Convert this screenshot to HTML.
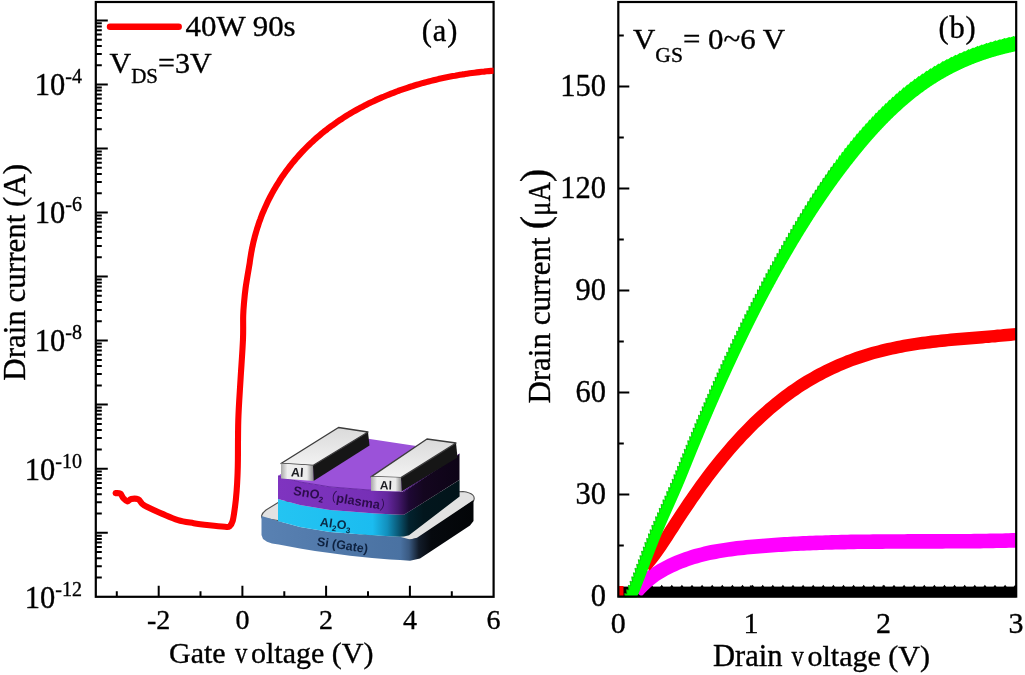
<!DOCTYPE html><html><head><meta charset="utf-8"><title>Figure</title><style>html,body{margin:0;padding:0;background:#fff;}svg{display:block;} text.s{stroke:#000;stroke-width:0.35px;}</style></head><body>
<svg width="1025" height="675" viewBox="0 0 1025 675">
<rect x="0" y="0" width="1025" height="675" fill="#fff"/>
<defs>
<clipPath id="cl"><rect x="95.8" y="2.0" width="397.8" height="594.8"/></clipPath>
<clipPath id="cr"><rect x="618.3" y="2.0" width="397.9" height="595.6"/></clipPath>
</defs>
<path d="M95.8 577.5H101.8 M95.8 566.2H101.8 M95.8 558.2H101.8 M95.8 552.0H101.8 M95.8 546.9H101.8 M95.8 542.6H101.8 M95.8 538.9H101.8 M95.8 535.7H101.8 M95.8 532.7H107.8 M95.8 513.4H101.8 M95.8 502.2H101.8 M95.8 494.2H101.8 M95.8 488.0H101.8 M95.8 482.9H101.8 M95.8 478.6H101.8 M95.8 474.9H101.8 M95.8 471.6H101.8 M95.8 468.7H107.8 M95.8 449.4H101.8 M95.8 438.1H101.8 M95.8 430.1H101.8 M95.8 423.9H101.8 M95.8 418.8H101.8 M95.8 414.6H101.8 M95.8 410.8H101.8 M95.8 407.6H101.8 M95.8 404.6H107.8 M95.8 385.4H101.8 M95.8 374.1H101.8 M95.8 366.1H101.8 M95.8 359.9H101.8 M95.8 354.8H101.8 M95.8 350.5H101.8 M95.8 346.8H101.8 M95.8 343.5H101.8 M95.8 340.6H107.8 M95.8 321.3H101.8 M95.8 310.0H101.8 M95.8 302.0H101.8 M95.8 295.8H101.8 M95.8 290.8H101.8 M95.8 286.5H101.8 M95.8 282.8H101.8 M95.8 279.5H101.8 M95.8 276.6H107.8 M95.8 257.3H101.8 M95.8 246.0H101.8 M95.8 238.0H101.8 M95.8 231.8H101.8 M95.8 226.7H101.8 M95.8 222.4H101.8 M95.8 218.7H101.8 M95.8 215.5H101.8 M95.8 212.5H107.8 M95.8 193.2H101.8 M95.8 182.0H101.8 M95.8 174.0H101.8 M95.8 167.8H101.8 M95.8 162.7H101.8 M95.8 158.4H101.8 M95.8 154.7H101.8 M95.8 151.4H101.8 M95.8 148.5H107.8 M95.8 129.2H101.8 M95.8 117.9H101.8 M95.8 109.9H101.8 M95.8 103.7H101.8 M95.8 98.6H101.8 M95.8 94.4H101.8 M95.8 90.6H101.8 M95.8 87.4H101.8 M95.8 84.4H107.8 M95.8 65.2H101.8 M95.8 53.9H101.8 M95.8 45.9H101.8 M95.8 39.7H101.8 M95.8 34.6H101.8 M95.8 30.3H101.8 M95.8 26.6H101.8 M95.8 23.3H101.8 M95.8 20.4H107.8 M116.8 596.8V591.3 M158.7 596.8V585.8 M200.5 596.8V591.3 M242.4 596.8V585.8 M284.3 596.8V591.3 M326.1 596.8V585.8 M368.0 596.8V591.3 M409.9 596.8V585.8 M451.8 596.8V591.3" stroke="#000" stroke-width="2" fill="none"/>
<rect x="95.8" y="2.0" width="397.8" height="594.8" fill="none" stroke="#000" stroke-width="2.2"/>
<text class="s" x="82" y="95.2" text-anchor="end" font-family='"Liberation Serif", "Times New Roman", serif' font-size="30.5">10<tspan dy="-12" font-size="20">-4</tspan></text>
<text class="s" x="82" y="223.3" text-anchor="end" font-family='"Liberation Serif", "Times New Roman", serif' font-size="30.5">10<tspan dy="-12" font-size="20">-6</tspan></text>
<text class="s" x="82" y="351.4" text-anchor="end" font-family='"Liberation Serif", "Times New Roman", serif' font-size="30.5">10<tspan dy="-12" font-size="20">-8</tspan></text>
<text class="s" x="82" y="479.5" text-anchor="end" font-family='"Liberation Serif", "Times New Roman", serif' font-size="30.5">10<tspan dy="-12" font-size="20">-10</tspan></text>
<text class="s" x="82" y="607.6" text-anchor="end" font-family='"Liberation Serif", "Times New Roman", serif' font-size="30.5">10<tspan dy="-12" font-size="20">-12</tspan></text>
<text class="s" x="158.7" y="629" text-anchor="middle" font-family='"Liberation Serif", "Times New Roman", serif' font-size="28">-2</text>
<text class="s" x="242.4" y="629" text-anchor="middle" font-family='"Liberation Serif", "Times New Roman", serif' font-size="28">0</text>
<text class="s" x="326.1" y="629" text-anchor="middle" font-family='"Liberation Serif", "Times New Roman", serif' font-size="28">2</text>
<text class="s" x="409.9" y="629" text-anchor="middle" font-family='"Liberation Serif", "Times New Roman", serif' font-size="28">4</text>
<text class="s" x="493.6" y="629" text-anchor="middle" font-family='"Liberation Serif", "Times New Roman", serif' font-size="28">6</text>
<text class="s" x="169" y="662.8" font-family='"Liberation Serif", "Times New Roman", serif' font-size="30">Gate <tspan dx="1.9" textLength="12.3" lengthAdjust="spacingAndGlyphs">v</tspan><tspan dx="3.7">oltage (V)</tspan></text>
<text class="s" transform="translate(24.9 272.3) rotate(-90)" text-anchor="middle" font-family='"Liberation Serif", "Times New Roman", serif' font-size="31">Drain current (A)</text>
<line x1="110" y1="26.8" x2="178.7" y2="26.8" stroke="#f00" stroke-width="6.4" stroke-linecap="round"/>
<text class="s" transform="translate(185.5 36.1) scale(1.03 1)" font-family='"Liberation Serif", "Times New Roman", serif' font-size="30">40W 90s</text>
<text class="s" x="109.5" y="73" font-family='"Liberation Serif", "Times New Roman", serif' font-size="30">V<tspan dy="9.6" font-size="21">DS</tspan><tspan dy="-9.6">=3V</tspan></text>
<text class="s" x="421.8" y="41" font-family='"Liberation Serif", "Times New Roman", serif' font-size="30.5" letter-spacing="0.9">(a)</text>
<g clip-path="url(#cl)"><path d="M115.6 493.1 C116.4 493.2 119.0 492.8 120.3 493.6 C121.6 494.5 122.2 496.9 123.4 498.2 C124.6 499.5 126.0 501.3 127.3 501.4 C128.6 501.5 129.4 499.4 131.2 499.0 C133.0 498.6 136.4 498.5 138.2 499.3 C140.0 500.1 140.7 502.4 142.1 503.7 C143.5 504.9 143.4 505.1 146.8 506.8 C150.2 508.5 157.2 511.7 162.4 513.9 C167.6 516.1 172.8 518.5 178.0 520.1 C183.2 521.7 188.5 522.3 193.7 523.2 C198.9 524.1 204.1 524.7 209.3 525.3 C214.5 525.9 221.5 526.6 224.9 526.8 C228.3 527.0 228.3 527.3 229.6 526.3 C230.9 525.3 231.8 524.1 232.7 520.9 C233.6 517.6 234.3 511.8 235.0 506.8 C235.7 501.9 236.2 496.4 236.6 491.2 C237.0 486.0 237.3 480.8 237.5 475.6 C237.7 470.4 237.8 469.3 237.9 460.0 C238.0 450.7 237.9 433.3 238.3 420.0 C238.7 406.7 239.7 393.5 240.5 380.0 C241.3 366.5 242.6 349.7 243.0 339.0 C243.4 328.3 243.0 321.6 243.2 315.6 C243.4 309.6 243.6 307.6 244.0 303.0 C244.4 298.4 244.7 294.7 245.6 288.0 C246.5 281.3 249.0 267.2 249.7 263.0 L250.0 260.5 L250.4 257.9 L250.8 255.4 L251.2 252.9 L251.7 250.4 L252.1 248.0 L252.7 245.5 L253.2 243.0 L253.8 240.6 L254.4 238.2 L255.0 235.8 L255.7 233.4 L256.4 231.0 L257.1 228.6 L257.9 226.3 L258.6 223.9 L259.4 221.6 L260.3 219.3 L261.1 217.0 L262.0 214.7 L262.9 212.4 L263.9 210.2 L264.9 207.9 L265.9 205.7 L266.9 203.5 L267.9 201.3 L269.0 199.1 L270.1 197.0 L271.3 194.8 L272.4 192.7 L273.6 190.6 L274.8 188.5 L276.0 186.4 L277.3 184.3 L278.6 182.3 L279.9 180.2 L281.2 178.2 L282.5 176.2 L283.9 174.2 L285.3 172.3 L286.7 170.3 L288.2 168.4 L289.6 166.5 L291.1 164.6 L292.6 162.7 L294.2 160.9 L295.7 159.0 L297.3 157.2 L298.9 155.4 L300.5 153.6 L302.1 151.9 L303.8 150.1 L305.5 148.4 L307.2 146.7 L308.9 145.0 L310.6 143.3 L312.4 141.7 L314.2 140.0 L316.0 138.4 L317.8 136.8 L319.6 135.3 L321.5 133.7 L323.4 132.2 L325.2 130.7 L327.2 129.2 L329.1 127.7 L331.0 126.3 L333.0 124.9 L335.0 123.5 L336.9 122.1 L338.9 120.7 L341.0 119.4 L343.0 118.0 L345.1 116.7 L347.1 115.4 L349.2 114.2 L351.3 112.9 L353.4 111.7 L355.5 110.5 L357.7 109.3 L359.8 108.1 L362.0 107.0 L364.1 105.8 L366.3 104.7 L368.5 103.6 L370.7 102.5 L373.0 101.5 L375.2 100.4 L377.4 99.4 L379.7 98.4 L381.9 97.4 L384.2 96.5 L386.5 95.5 L388.8 94.6 L391.1 93.7 L393.4 92.8 L395.7 91.9 L398.0 91.0 L400.3 90.2 L402.7 89.4 L405.0 88.6 L407.3 87.8 L409.7 87.0 L412.1 86.3 L414.4 85.5 L416.8 84.8 L419.2 84.1 L421.5 83.4 L423.9 82.8 L426.3 82.1 L428.7 81.5 L431.1 80.9 L433.5 80.3 L435.9 79.7 L438.3 79.1 L440.7 78.6 L443.1 78.1 L445.5 77.6 L447.9 77.1 L450.4 76.6 L452.8 76.1 L455.2 75.7 L457.6 75.2 L460.0 74.8 L462.4 74.4 L464.8 74.1 L467.2 73.7 L469.7 73.3 L472.1 73.0 L474.5 72.7 L476.9 72.4 L479.3 72.1 L481.7 71.8 L484.1 71.6 L486.5 71.3 L488.9 71.1 L491.2 70.9 L493.6 70.7 L496.0 70.5" stroke="#f00" stroke-width="6.1" fill="none" stroke-linejoin="round" stroke-linecap="round"/></g>
<path d="M618.3 545.4H623.8 M618.3 494.4H629.3 M618.3 443.4H623.8 M618.3 392.5H629.3 M618.3 341.5H623.8 M618.3 290.5H629.3 M618.3 239.5H623.8 M618.3 188.5H629.3 M618.3 137.5H623.8 M618.3 86.5H629.3 M618.3 35.6H623.8 M684.6 596.6V591.1 M750.9 596.6V585.6 M817.2 596.6V591.1 M883.5 596.6V585.6 M949.8 596.6V591.1" stroke="#000" stroke-width="2" fill="none"/>
<text class="s" x="606" y="605.5" text-anchor="end" font-family='"Liberation Serif", "Times New Roman", serif' font-size="30.5">0</text>
<text class="s" x="606" y="503.5" text-anchor="end" font-family='"Liberation Serif", "Times New Roman", serif' font-size="30.5">30</text>
<text class="s" x="606" y="401.6" text-anchor="end" font-family='"Liberation Serif", "Times New Roman", serif' font-size="30.5">60</text>
<text class="s" x="606" y="299.6" text-anchor="end" font-family='"Liberation Serif", "Times New Roman", serif' font-size="30.5">90</text>
<text class="s" x="606" y="197.6" text-anchor="end" font-family='"Liberation Serif", "Times New Roman", serif' font-size="30.5">120</text>
<text class="s" x="606" y="95.6" text-anchor="end" font-family='"Liberation Serif", "Times New Roman", serif' font-size="30.5">150</text>
<text class="s" x="618.3" y="632.5" text-anchor="middle" font-family='"Liberation Serif", "Times New Roman", serif' font-size="30">0</text>
<text class="s" x="750.9" y="632.5" text-anchor="middle" font-family='"Liberation Serif", "Times New Roman", serif' font-size="30">1</text>
<text class="s" x="883.5" y="632.5" text-anchor="middle" font-family='"Liberation Serif", "Times New Roman", serif' font-size="30">2</text>
<text class="s" x="1016.1" y="632.5" text-anchor="middle" font-family='"Liberation Serif", "Times New Roman", serif' font-size="30">3</text>
<text class="s" x="713" y="665.6" font-family='"Liberation Serif", "Times New Roman", serif' font-size="30.5">Drain <tspan font-size="30" dx="1.43" textLength="12.3" lengthAdjust="spacingAndGlyphs">v</tspan><tspan font-size="30" dx="3.7">oltage (V)</tspan></text>
<text class="s" transform="translate(549.6 403.6) rotate(-90)" font-family='"Liberation Serif", "Times New Roman", serif' font-size="31">Drain current <tspan font-size="40" dy="-1.6" dx="0.5">(</tspan><tspan font-size="31" dy="1.6" textLength="34" lengthAdjust="spacingAndGlyphs">μA</tspan><tspan font-size="40" dy="-1.6">)</tspan></text>
<text class="s" transform="translate(633 48.5) scale(1.03 1)" font-family='"Liberation Serif", "Times New Roman", serif' font-size="30">V<tspan dy="13.5" font-size="21">GS</tspan><tspan dy="-13.5" font-size="30">= 0~6 V</tspan></text>
<text class="s" x="938.5" y="38" font-family='"Liberation Serif", "Times New Roman", serif' font-size="30.5" letter-spacing="0.8">(b)</text>
<g clip-path="url(#cr)">
<rect x="618" y="586.6" width="398" height="11" fill="#000"/>
<path d="M640 597 Q640 588 648 586.6 L650 597 Z" fill="#000"/>
<path d="M650.0 587 l1.6 -2.2 l1.6 2.2 ZM660.1 587 l1.6 -2.2 l1.6 2.2 ZM670.2 587 l1.6 -2.2 l1.6 2.2 ZM680.3 587 l1.6 -2.2 l1.6 2.2 ZM690.4 587 l1.6 -2.2 l1.6 2.2 ZM700.5 587 l1.6 -2.2 l1.6 2.2 ZM710.6 587 l1.6 -2.2 l1.6 2.2 ZM720.7 587 l1.6 -2.2 l1.6 2.2 ZM730.8 587 l1.6 -2.2 l1.6 2.2 ZM740.9 587 l1.6 -2.2 l1.6 2.2 ZM751.0 587 l1.6 -2.2 l1.6 2.2 ZM761.1 587 l1.6 -2.2 l1.6 2.2 ZM771.2 587 l1.6 -2.2 l1.6 2.2 ZM781.3 587 l1.6 -2.2 l1.6 2.2 ZM791.4 587 l1.6 -2.2 l1.6 2.2 ZM801.5 587 l1.6 -2.2 l1.6 2.2 ZM811.6 587 l1.6 -2.2 l1.6 2.2 ZM821.7 587 l1.6 -2.2 l1.6 2.2 ZM831.8 587 l1.6 -2.2 l1.6 2.2 ZM841.9 587 l1.6 -2.2 l1.6 2.2 ZM852.0 587 l1.6 -2.2 l1.6 2.2 ZM862.1 587 l1.6 -2.2 l1.6 2.2 ZM872.2 587 l1.6 -2.2 l1.6 2.2 ZM882.3 587 l1.6 -2.2 l1.6 2.2 ZM892.4 587 l1.6 -2.2 l1.6 2.2 ZM902.5 587 l1.6 -2.2 l1.6 2.2 ZM912.6 587 l1.6 -2.2 l1.6 2.2 ZM922.7 587 l1.6 -2.2 l1.6 2.2 ZM932.8 587 l1.6 -2.2 l1.6 2.2 ZM942.9 587 l1.6 -2.2 l1.6 2.2 ZM953.0 587 l1.6 -2.2 l1.6 2.2 ZM963.1 587 l1.6 -2.2 l1.6 2.2 ZM973.2 587 l1.6 -2.2 l1.6 2.2 ZM983.3 587 l1.6 -2.2 l1.6 2.2 ZM993.4 587 l1.6 -2.2 l1.6 2.2 ZM1003.5 587 l1.6 -2.2 l1.6 2.2 ZM1013.6 587 l1.6 -2.2 l1.6 2.2 Z" fill="#000"/>
<rect x="617.5" y="586" width="6" height="11" fill="#f00"/>
<path d="M641.5 596.8 L644.5 593.3 L647.5 590.3 L650.4 587.6 L653.3 585.0 L656.2 582.7 L659.1 580.6 L662.0 578.7 L665.0 576.9 L667.9 575.3 L670.9 573.7 L673.9 572.3 L676.9 570.9 L679.9 569.6 L682.9 568.3 L686.0 567.2 L689.0 566.1 L692.0 565.0 L695.0 564.1 L698.1 563.2 L701.1 562.3 L704.1 561.5 L707.2 560.8 L710.2 560.1 L713.3 559.5 L716.4 558.9 L719.4 558.3 L722.5 557.8 L725.6 557.3 L728.7 556.8 L731.7 556.4 L734.8 556.0 L738.0 555.6 L741.1 555.3 L744.2 555.0 L747.3 554.6 L750.4 554.3 L753.6 554.1 L756.7 553.8 L759.8 553.5 L763.0 553.2 L766.1 553.0 L769.3 552.8 L772.4 552.5 L775.5 552.3 L778.7 552.1 L781.8 551.9 L784.9 551.7 L788.1 551.5 L791.2 551.3 L794.4 551.1 L797.5 551.0 L800.7 550.8 L803.8 550.7 L806.9 550.5 L810.1 550.4 L813.2 550.3 L816.4 550.2 L819.5 550.1 L822.7 549.9 L825.8 549.8 L829.0 549.7 L832.1 549.7 L835.2 549.6 L838.4 549.5 L841.5 549.4 L844.7 549.4 L847.8 549.3 L851.0 549.2 L854.1 549.2 L857.3 549.1 L860.4 549.1 L863.6 549.0 L866.7 549.0 L869.9 549.0 L873.0 548.9 L876.2 548.9 L879.4 548.9 L882.5 548.9 L885.7 548.8 L888.8 548.8 L892.0 548.8 L895.1 548.8 L898.3 548.8 L901.4 548.8 L904.6 548.8 L907.8 548.7 L910.9 548.7 L914.1 548.7 L917.2 548.7 L920.4 548.7 L923.5 548.7 L926.7 548.7 L929.9 548.7 L933.0 548.7 L936.2 548.7 L939.4 548.7 L942.5 548.7 L945.7 548.6 L948.8 548.6 L952.0 548.6 L955.2 548.6 L958.3 548.6 L961.5 548.6 L964.7 548.5 L967.8 548.5 L971.0 548.5 L974.2 548.4 L977.3 548.4 L980.5 548.4 L983.7 548.3 L986.8 548.3 L990.0 548.2 L993.2 548.2 L996.3 548.1 L999.5 548.0 L1002.7 548.0 L1005.9 547.9 L1009.0 547.8 L1012.0 547.7 L1022.0 547.7 L1022.0 533.1 L1012.0 533.1 L1008.7 533.2 L1005.5 533.3 L1002.4 533.4 L999.2 533.4 L996.1 533.5 L992.9 533.6 L989.8 533.6 L986.6 533.7 L983.5 533.7 L980.3 533.8 L977.2 533.8 L974.0 533.8 L970.9 533.9 L967.7 533.9 L964.5 533.9 L961.4 534.0 L958.2 534.0 L955.1 534.0 L951.9 534.0 L948.8 534.0 L945.6 534.0 L942.5 534.1 L939.3 534.1 L936.1 534.1 L933.0 534.1 L929.8 534.1 L926.7 534.1 L923.5 534.1 L920.4 534.1 L917.2 534.1 L914.0 534.1 L910.9 534.1 L907.7 534.1 L904.5 534.2 L901.4 534.2 L898.2 534.2 L895.1 534.2 L891.9 534.2 L888.7 534.2 L885.6 534.2 L882.4 534.3 L879.2 534.3 L876.1 534.3 L872.9 534.3 L869.7 534.4 L866.6 534.4 L863.4 534.4 L860.2 534.5 L857.1 534.5 L853.9 534.6 L850.7 534.6 L847.6 534.7 L844.4 534.8 L841.2 534.8 L838.0 534.9 L834.9 535.0 L831.7 535.1 L828.5 535.2 L825.4 535.2 L822.2 535.4 L819.0 535.5 L815.8 535.6 L812.7 535.7 L809.5 535.8 L806.3 536.0 L803.1 536.1 L800.0 536.2 L796.8 536.4 L793.6 536.6 L790.4 536.7 L787.2 536.9 L784.1 537.1 L780.9 537.3 L777.7 537.5 L774.5 537.7 L771.3 538.0 L768.2 538.2 L765.0 538.4 L761.8 538.7 L758.6 539.0 L755.4 539.2 L752.2 539.5 L749.1 539.8 L745.9 540.1 L742.7 540.4 L739.5 540.8 L736.3 541.1 L733.1 541.5 L729.8 541.9 L726.6 542.4 L723.4 542.9 L720.1 543.4 L716.9 543.9 L713.6 544.5 L710.4 545.1 L707.1 545.8 L703.8 546.6 L700.6 547.4 L697.3 548.2 L694.0 549.1 L690.7 550.1 L687.4 551.2 L684.1 552.3 L680.8 553.5 L677.5 554.8 L674.2 556.1 L670.9 557.6 L667.6 559.1 L664.3 560.7 L661.0 562.4 L657.6 564.3 L654.2 566.4 L650.8 568.6 L647.4 571.1 L644.0 573.8 L640.6 576.7 L637.2 579.9 L633.8 583.4 L630.5 587.1 Z" fill="#f0f"/>
<path d="M649.6 570.4 L652.8 566.9 L656.1 562.9 L659.4 558.7 L662.6 554.3 L665.8 549.7 L668.9 545.0 L672.1 540.2 L675.2 535.3 L678.4 530.5 L681.5 525.6 L684.6 520.8 L687.7 516.1 L690.8 511.5 L693.9 506.9 L697.0 502.3 L700.1 497.9 L703.2 493.5 L706.3 489.1 L709.4 484.9 L712.4 480.7 L715.5 476.7 L718.6 472.7 L721.7 468.7 L724.8 464.9 L727.9 461.1 L730.9 457.4 L734.0 453.8 L737.1 450.3 L740.2 446.8 L743.3 443.4 L746.3 440.1 L749.4 436.9 L752.5 433.7 L755.6 430.6 L758.6 427.6 L761.7 424.7 L764.8 421.8 L767.8 419.0 L770.9 416.2 L773.9 413.6 L777.0 411.0 L780.1 408.5 L783.1 406.0 L786.2 403.6 L789.2 401.3 L792.3 399.0 L795.3 396.8 L798.4 394.7 L801.4 392.6 L804.5 390.6 L807.5 388.7 L810.6 386.8 L813.6 385.0 L816.7 383.2 L819.7 381.5 L822.8 379.9 L825.8 378.3 L828.9 376.7 L831.9 375.2 L835.0 373.8 L838.0 372.4 L841.0 371.0 L844.1 369.7 L847.1 368.5 L850.2 367.3 L853.2 366.1 L856.3 365.0 L859.3 363.9 L862.4 362.9 L865.4 361.9 L868.5 360.9 L871.5 360.0 L874.6 359.1 L877.7 358.3 L880.7 357.5 L883.8 356.7 L886.8 356.0 L889.9 355.3 L893.0 354.6 L896.0 353.9 L899.1 353.3 L902.2 352.7 L905.2 352.1 L908.3 351.6 L911.4 351.1 L914.5 350.6 L917.5 350.1 L920.6 349.6 L923.7 349.2 L926.8 348.8 L929.9 348.4 L933.0 348.0 L936.0 347.7 L939.1 347.3 L942.2 347.0 L945.3 346.7 L948.4 346.3 L951.5 346.0 L954.6 345.8 L957.7 345.5 L960.8 345.2 L964.0 344.9 L967.1 344.7 L970.2 344.4 L973.3 344.2 L976.4 343.9 L979.5 343.7 L982.7 343.4 L985.8 343.1 L988.9 342.9 L992.0 342.6 L995.2 342.4 L998.3 342.1 L1001.4 341.8 L1004.6 341.5 L1007.7 341.2 L1010.9 340.9 L1014.0 340.6 L1017.0 340.3 L1022.3 340.0 L1021.7 327.6 L1016.0 327.9 L1012.7 328.2 L1009.6 328.5 L1006.5 328.8 L1003.4 329.1 L1000.3 329.4 L997.2 329.6 L994.1 329.9 L991.0 330.2 L987.9 330.4 L984.8 330.7 L981.7 330.9 L978.5 331.2 L975.4 331.4 L972.3 331.7 L969.2 332.0 L966.0 332.2 L962.9 332.5 L959.8 332.7 L956.6 333.0 L953.5 333.3 L950.4 333.6 L947.2 333.9 L944.1 334.2 L940.9 334.5 L937.8 334.9 L934.6 335.2 L931.5 335.6 L928.3 336.0 L925.2 336.4 L922.0 336.8 L918.8 337.3 L915.7 337.7 L912.5 338.2 L909.3 338.7 L906.2 339.3 L903.0 339.8 L899.8 340.4 L896.7 341.0 L893.5 341.7 L890.3 342.4 L887.1 343.1 L883.9 343.8 L880.8 344.6 L877.6 345.4 L874.4 346.2 L871.2 347.1 L868.0 348.0 L864.8 349.0 L861.6 350.0 L858.4 351.0 L855.2 352.1 L852.0 353.2 L848.9 354.4 L845.7 355.6 L842.5 356.9 L839.3 358.2 L836.1 359.6 L832.9 361.0 L829.7 362.4 L826.5 364.0 L823.3 365.5 L820.1 367.2 L816.9 368.8 L813.7 370.6 L810.5 372.4 L807.3 374.2 L804.1 376.1 L800.9 378.1 L797.7 380.1 L794.5 382.2 L791.3 384.4 L788.1 386.6 L784.9 388.9 L781.7 391.3 L778.5 393.7 L775.4 396.2 L772.2 398.8 L769.0 401.4 L765.8 404.1 L762.6 406.9 L759.4 409.7 L756.3 412.6 L753.1 415.6 L749.9 418.6 L746.7 421.8 L743.6 425.0 L740.4 428.2 L737.2 431.6 L734.1 435.0 L730.9 438.5 L727.7 442.0 L724.6 445.7 L721.4 449.4 L718.2 453.2 L715.1 457.0 L711.9 461.0 L708.7 465.0 L705.6 469.1 L702.4 473.2 L699.3 477.5 L696.1 481.8 L693.0 486.2 L689.8 490.7 L686.7 495.2 L683.5 499.8 L680.4 504.5 L677.2 509.2 L674.1 514.0 L671.0 518.8 L667.8 523.7 L664.7 528.6 L661.6 533.4 L658.5 538.1 L655.4 542.7 L652.4 547.1 L649.4 551.2 L646.4 555.1 L643.4 558.6 L640.4 561.9 Z" fill="#f00"/>
<path d="M634.5 602.7 L634.6 602.3 L634.8 602.0 L635.0 601.6 L635.1 601.2 L635.3 600.9 L635.5 600.5 L635.6 600.1 L635.8 599.8 L636.0 599.4 L636.1 599.1 L636.3 598.7 L636.5 598.3 L636.6 598.0 L636.8 597.6 L637.0 597.1 L637.2 596.7 L637.3 596.3 L637.5 596.0 L637.6 595.6 L637.8 595.2 L638.0 594.9 L638.1 594.5 L638.3 594.1 L638.4 593.8 L638.6 593.4 L638.7 593.0 L638.9 592.7 L639.1 592.3 L639.2 591.9 L639.4 591.5 L639.6 591.1 L639.7 590.7 L639.9 590.3 L640.0 590.0 L640.2 589.6 L640.3 589.2 L640.5 588.9 L640.6 588.5 L640.8 588.1 L640.9 587.7 L641.1 587.4 L641.2 587.0 L641.4 586.6 L641.5 586.3 L641.7 585.9 L641.8 585.5 L642.0 585.1 L642.1 584.7 L642.3 584.3 L642.4 583.9 L642.6 583.6 L642.7 583.2 L642.9 582.8 L643.0 582.5 L643.1 582.1 L643.3 581.7 L643.4 581.3 L643.6 581.0 L643.7 580.6 L643.9 580.2 L644.0 579.8 L644.2 579.5 L644.3 579.1 L644.5 578.7 L644.6 578.3 L644.8 577.9 L644.9 577.6 L645.0 577.2 L645.2 576.8 L645.3 576.4 L645.5 576.1 L645.6 575.7 L645.7 575.3 L645.9 574.9 L646.0 574.6 L646.2 574.2 L646.3 573.8 L646.5 573.4 L646.6 573.1 L646.7 572.7 L646.9 572.3 L647.0 571.9 L647.2 571.6 L647.3 571.2 L647.5 570.8 L647.6 570.4 L647.7 570.1 L647.9 569.7 L648.0 569.3 L648.2 568.9 L648.3 568.6 L648.4 568.2 L648.6 567.8 L648.7 567.4 L648.9 567.1 L649.0 566.7 L649.2 566.3 L649.3 566.0 L649.4 565.6 L649.6 565.2 L649.7 564.8 L649.9 564.5 L650.0 564.1 L650.1 563.7 L650.3 563.3 L650.4 563.0 L650.6 562.6 L650.7 562.2 L650.9 561.8 L651.0 561.5 L651.1 561.1 L651.3 560.7 L651.4 560.3 L651.6 560.0 L651.7 559.6 L651.8 559.2 L652.0 558.9 L652.1 558.5 L652.3 558.1 L652.4 557.8 L652.6 557.4 L652.7 557.0 L652.8 556.6 L653.0 556.3 L653.1 555.9 L653.3 555.5 L653.4 555.1 L653.6 554.8 L653.7 554.4 L653.8 554.0 L654.0 553.7 L654.1 553.3 L654.3 552.9 L654.4 552.6 L654.6 552.2 L654.7 551.8 L654.8 551.4 L655.0 551.1 L655.1 550.7 L655.3 550.3 L655.4 549.9 L655.6 549.6 L655.7 549.2 L655.9 548.8 L656.0 548.5 L656.1 548.1 L656.3 547.7 L656.4 547.4 L656.6 547.0 L656.7 546.6 L656.9 546.3 L657.0 545.9 L657.2 545.5 L657.3 545.1 L657.5 544.8 L657.6 544.4 L657.7 544.0 L657.9 543.7 L658.0 543.3 L658.2 542.9 L658.3 542.5 L658.5 542.2 L658.6 541.8 L658.8 541.4 L658.9 541.1 L659.1 540.7 L659.2 540.4 L659.4 540.0 L659.5 539.6 L659.7 539.2 L659.8 538.9 L660.0 538.5 L660.1 538.1 L660.3 537.8 L660.4 537.4 L660.6 537.0 L660.7 536.7 L660.9 536.3 L661.0 535.9 L661.2 535.5 L661.3 535.2 L661.4 534.9 L661.6 534.5 L661.8 534.1 L661.9 533.8 L662.1 533.4 L662.2 533.0 L662.4 532.6 L662.5 532.3 L662.7 531.9 L662.8 531.5 L663.0 531.2 L663.1 530.8 L663.3 530.4 L663.4 530.1 L663.6 529.7 L663.7 529.4 L663.9 529.0 L664.0 528.6 L664.2 528.3 L664.4 527.9 L664.5 527.5 L664.7 527.2 L664.8 526.8 L665.0 526.4 L665.1 526.1 L665.3 525.7 L665.5 525.3 L665.6 525.0 L665.8 524.6 L665.9 524.2 L666.1 523.9 L666.2 523.5 L666.4 523.2 L666.6 522.8 L666.7 522.4 L666.9 522.1 L667.0 521.7 L667.2 521.3 L667.4 521.0 L667.5 520.6 L667.7 520.2 L667.8 519.9 L668.0 519.5 L668.2 519.1 L668.3 518.8 L668.5 518.4 L668.6 518.1 L668.8 517.7 L668.9 517.3 L669.1 517.0 L669.3 516.6 L669.4 516.2 L669.6 515.9 L669.8 515.5 L669.9 515.1 L670.1 514.8 L670.2 514.4 L670.4 514.0 L670.6 513.7 L670.7 513.3 L670.9 513.0 L671.0 512.6 L671.2 512.2 L671.4 511.9 L671.5 511.5 L671.7 511.1 L671.9 510.8 L672.0 510.4 L672.2 510.0 L672.3 509.7 L672.5 509.3 L672.7 508.9 L672.8 508.6 L673.0 508.2 L673.2 507.9 L673.3 507.5 L673.5 507.1 L673.6 506.8 L673.8 506.4 L674.0 506.0 L674.1 505.7 L674.3 505.3 L674.5 504.9 L674.6 504.6 L674.8 504.2 L674.9 503.8 L675.1 503.5 L675.3 503.1 L675.4 502.7 L675.6 502.4 L675.8 502.0 L675.9 501.6 L676.1 501.3 L676.3 500.9 L676.4 500.5 L676.6 500.2 L676.7 499.8 L676.9 499.4 L677.1 499.1 L677.2 498.7 L677.4 498.3 L677.6 498.0 L677.7 497.6 L677.9 497.2 L678.0 496.9 L678.2 496.5 L678.4 496.1 L678.5 495.7 L678.7 495.4 L678.9 495.0 L679.0 494.6 L679.2 494.3 L679.3 493.9 L679.5 493.5 L679.7 493.2 L679.8 492.8 L680.0 492.4 L680.1 492.1 L680.3 491.7 L680.5 491.3 L680.6 491.0 L680.8 490.6 L681.0 490.2 L681.1 489.8 L681.3 489.5 L681.4 489.1 L681.6 488.7 L681.7 488.4 L681.9 488.0 L682.1 487.6 L682.2 487.3 L682.4 486.9 L682.5 486.5 L682.7 486.2 L682.8 485.8 L683.0 485.4 L683.2 485.0 L683.3 484.6 L683.5 484.3 L683.6 483.9 L683.8 483.5 L684.0 483.2 L684.1 482.8 L684.3 482.4 L684.4 482.1 L684.6 481.7 L684.7 481.3 L684.9 480.9 L685.0 480.6 L685.2 480.2 L685.3 479.8 L685.5 479.4 L685.7 479.1 L685.8 478.7 L686.0 478.3 L686.1 477.9 L686.3 477.6 L686.4 477.2 L686.6 476.8 L686.7 476.5 L686.9 476.1 L687.0 475.7 L687.2 475.3 L687.3 475.0 L687.5 474.6 L687.6 474.2 L687.8 473.9 L687.9 473.5 L688.1 473.1 L688.3 472.7 L688.4 472.4 L688.5 472.0 L688.7 471.6 L688.8 471.2 L689.0 470.9 L689.1 470.5 L689.3 470.1 L689.4 469.8 L689.6 469.4 L689.7 469.0 L689.9 468.6 L690.0 468.3 L690.2 467.9 L690.3 467.5 L690.5 467.2 L690.6 466.8 L690.8 466.4 L690.9 466.0 L691.1 465.7 L691.2 465.3 L691.4 464.9 L691.5 464.6 L691.7 464.2 L691.8 463.8 L692.0 463.4 L692.1 463.1 L692.3 462.7 L692.4 462.3 L692.6 462.0 L692.7 461.6 L692.9 461.2 L693.0 460.9 L693.2 460.5 L693.3 460.1 L693.5 459.7 L693.6 459.4 L693.8 459.0 L693.9 458.6 L694.1 458.3 L694.2 457.9 L694.4 457.5 L694.5 457.1 L694.7 456.8 L694.8 456.4 L695.0 456.0 L695.1 455.7 L695.3 455.3 L695.4 454.9 L695.6 454.6 L695.7 454.2 L695.9 453.8 L696.0 453.5 L696.2 453.1 L696.3 452.7 L696.5 452.3 L696.6 452.0 L696.8 451.6 L696.9 451.2 L697.1 450.9 L697.2 450.5 L697.4 450.1 L697.5 449.8 L697.7 449.4 L697.8 449.0 L698.0 448.7 L698.1 448.3 L698.3 447.9 L698.4 447.6 L698.6 447.2 L698.7 446.8 L698.9 446.4 L699.1 446.1 L699.2 445.7 L699.4 445.3 L699.5 445.0 L699.7 444.6 L699.8 444.2 L700.0 443.9 L700.1 443.5 L700.3 443.1 L700.4 442.8 L700.6 442.4 L700.7 442.0 L700.9 441.7 L701.0 441.3 L701.2 440.9 L701.3 440.5 L701.5 440.2 L701.6 439.8 L701.8 439.4 L701.9 439.1 L702.1 438.7 L702.3 438.3 L702.4 438.0 L702.6 437.6 L702.7 437.2 L702.9 436.9 L703.0 436.5 L703.2 436.1 L703.3 435.8 L703.5 435.4 L703.6 435.0 L703.8 434.7 L703.9 434.3 L704.1 433.9 L704.2 433.5 L704.4 433.2 L704.6 432.8 L704.7 432.4 L704.9 432.1 L705.0 431.7 L705.2 431.3 L705.3 431.0 L705.5 430.6 L705.6 430.2 L705.8 429.9 L705.9 429.5 L706.1 429.1 L706.3 428.8 L706.4 428.4 L706.6 428.0 L706.7 427.7 L706.9 427.3 L707.0 426.9 L707.2 426.6 L707.3 426.2 L707.5 425.8 L707.6 425.5 L707.8 425.1 L708.0 424.7 L708.1 424.4 L708.3 424.0 L708.4 423.6 L708.6 423.3 L708.7 422.9 L708.9 422.5 L709.0 422.2 L709.2 421.8 L709.4 421.4 L709.5 421.0 L709.7 420.7 L709.8 420.3 L710.0 420.0 L710.1 419.6 L710.3 419.2 L710.5 418.9 L710.6 418.5 L710.8 418.1 L710.9 417.8 L711.1 417.4 L711.2 417.0 L711.4 416.7 L711.6 416.3 L711.7 415.9 L711.9 415.5 L712.0 415.2 L712.2 414.8 L712.3 414.5 L712.5 414.1 L712.7 413.7 L712.8 413.4 L713.0 413.0 L713.1 412.6 L713.3 412.3 L713.4 411.9 L713.6 411.5 L713.8 411.2 L713.9 410.8 L714.1 410.4 L714.2 410.1 L714.4 409.7 L714.5 409.3 L714.7 409.0 L714.9 408.6 L715.0 408.2 L715.2 407.9 L715.3 407.5 L715.5 407.1 L715.7 406.8 L715.8 406.4 L716.0 406.0 L716.1 405.7 L716.3 405.3 L716.5 404.9 L716.6 404.6 L716.8 404.2 L716.9 403.8 L717.1 403.5 L717.2 403.1 L717.4 402.8 L717.6 402.4 L717.7 402.0 L717.9 401.7 L718.1 401.3 L718.2 400.9 L718.4 400.6 L718.5 400.2 L718.7 399.8 L718.9 399.5 L719.0 399.1 L719.2 398.7 L719.3 398.4 L719.5 398.0 L719.6 397.6 L719.8 397.3 L720.0 396.9 L720.1 396.5 L720.3 396.2 L720.5 395.8 L720.6 395.4 L720.8 395.1 L720.9 394.7 L721.1 394.3 L721.3 394.0 L721.4 393.6 L721.6 393.3 L721.7 392.9 L721.9 392.5 L722.1 392.2 L722.2 391.8 L722.4 391.4 L722.6 391.1 L722.7 390.7 L722.9 390.3 L723.0 390.0 L723.2 389.6 L723.4 389.2 L723.5 388.9 L723.7 388.5 L723.9 388.2 L724.0 387.8 L724.2 387.4 L724.3 387.1 L724.5 386.7 L724.7 386.3 L724.8 386.0 L725.0 385.6 L725.2 385.3 L725.3 384.9 L725.5 384.5 L725.6 384.2 L725.8 383.8 L726.0 383.4 L726.1 383.1 L726.3 382.7 L726.5 382.3 L726.6 382.0 L726.8 381.6 L727.0 381.3 L727.1 380.9 L727.3 380.5 L727.4 380.2 L727.6 379.8 L727.8 379.4 L727.9 379.1 L728.1 378.7 L728.3 378.3 L728.4 378.0 L728.6 377.6 L728.8 377.2 L728.9 376.9 L729.1 376.5 L729.3 376.2 L729.4 375.8 L729.6 375.4 L729.8 375.1 L729.9 374.7 L730.1 374.4 L730.3 374.0 L730.4 373.6 L730.6 373.3 L730.8 372.9 L730.9 372.5 L731.1 372.2 L731.3 371.8 L731.4 371.4 L731.6 371.1 L731.7 370.7 L731.9 370.4 L732.1 370.0 L732.2 369.6 L732.4 369.3 L732.6 368.9 L732.7 368.6 L732.9 368.2 L733.1 367.8 L733.2 367.5 L733.4 367.1 L733.6 366.7 L733.7 366.4 L733.9 366.0 L734.1 365.7 L734.2 365.3 L734.4 364.9 L734.6 364.6 L734.7 364.2 L734.9 363.9 L735.1 363.5 L735.3 363.1 L735.4 362.8 L735.6 362.4 L735.8 362.0 L735.9 361.7 L736.1 361.3 L736.3 361.0 L736.4 360.6 L736.6 360.2 L736.8 359.9 L736.9 359.5 L737.1 359.2 L737.3 358.8 L737.4 358.4 L737.6 358.1 L737.8 357.7 L738.0 357.4 L738.1 357.0 L738.3 356.6 L738.5 356.3 L738.6 355.9 L738.8 355.5 L739.0 355.2 L739.1 354.8 L739.3 354.5 L739.5 354.1 L739.6 353.8 L739.8 353.4 L740.0 353.0 L740.2 352.7 L740.3 352.3 L740.5 351.9 L740.7 351.6 L740.8 351.2 L741.0 350.9 L741.2 350.5 L741.3 350.2 L741.5 349.8 L741.7 349.4 L741.9 349.1 L742.0 348.7 L742.2 348.3 L742.4 348.0 L742.6 347.6 L742.7 347.3 L742.9 346.9 L743.1 346.5 L743.2 346.2 L743.4 345.8 L743.6 345.5 L743.7 345.1 L743.9 344.8 L744.1 344.4 L744.3 344.0 L744.4 343.7 L744.6 343.3 L744.8 343.0 L745.0 342.6 L745.1 342.2 L745.3 341.9 L745.5 341.5 L745.7 341.2 L745.8 340.8 L746.0 340.4 L746.2 340.1 L746.3 339.7 L746.5 339.4 L746.7 339.0 L746.9 338.7 L747.0 338.3 L747.2 337.9 L747.4 337.6 L747.6 337.2 L747.7 336.9 L747.9 336.5 L748.1 336.1 L748.3 335.8 L748.4 335.4 L748.6 335.1 L748.8 334.7 L748.9 334.4 L749.1 334.0 L749.3 333.6 L749.5 333.3 L749.7 332.9 L749.8 332.6 L750.0 332.2 L750.2 331.8 L750.4 331.5 L750.5 331.1 L750.7 330.8 L750.9 330.4 L751.1 330.1 L751.2 329.7 L751.4 329.3 L751.6 329.0 L751.8 328.6 L751.9 328.3 L752.1 327.9 L752.3 327.6 L752.5 327.2 L752.6 326.8 L752.8 326.5 L753.0 326.1 L753.2 325.8 L753.3 325.4 L753.5 325.1 L753.7 324.7 L753.9 324.3 L754.1 324.0 L754.2 323.6 L754.4 323.3 L754.6 322.9 L754.8 322.6 L754.9 322.2 L755.1 321.8 L755.3 321.5 L755.5 321.1 L755.7 320.8 L755.8 320.4 L756.0 320.1 L756.2 319.7 L756.4 319.4 L756.5 319.0 L756.7 318.6 L756.9 318.3 L757.1 317.9 L757.3 317.6 L757.4 317.2 L757.6 316.9 L757.8 316.5 L758.0 316.1 L758.2 315.8 L758.3 315.4 L758.5 315.1 L758.7 314.7 L758.9 314.4 L759.1 314.0 L759.2 313.7 L759.4 313.3 L759.6 312.9 L759.8 312.6 L760.0 312.2 L760.1 311.9 L760.3 311.5 L760.5 311.2 L760.7 310.8 L760.9 310.5 L761.0 310.1 L761.2 309.8 L761.4 309.4 L761.6 309.0 L761.8 308.7 L761.9 308.3 L762.1 308.0 L762.3 307.6 L762.5 307.3 L762.7 306.9 L762.9 306.6 L763.0 306.2 L763.2 305.9 L763.4 305.5 L763.6 305.2 L763.8 304.8 L763.9 304.4 L764.1 304.1 L764.3 303.7 L764.5 303.4 L764.7 303.0 L764.9 302.7 L765.0 302.3 L765.2 302.0 L765.4 301.6 L765.6 301.3 L765.8 300.9 L766.0 300.6 L766.1 300.2 L766.3 299.9 L766.5 299.5 L766.7 299.1 L766.9 298.8 L767.1 298.4 L767.3 298.1 L767.5 297.7 L767.6 297.4 L767.8 297.0 L768.0 296.7 L768.2 296.3 L768.4 296.0 L768.6 295.6 L768.8 295.3 L768.9 294.9 L769.1 294.6 L769.3 294.2 L769.5 293.9 L769.7 293.5 L769.9 293.2 L770.1 292.8 L770.3 292.5 L770.4 292.1 L770.6 291.8 L770.8 291.4 L771.0 291.1 L771.2 290.7 L771.4 290.4 L771.6 290.0 L771.8 289.7 L772.0 289.3 L772.1 289.0 L772.3 288.6 L772.5 288.2 L772.7 287.9 L772.9 287.6 L773.1 287.2 L773.3 286.9 L773.5 286.5 L773.7 286.2 L773.8 285.8 L774.0 285.5 L774.2 285.1 L774.4 284.8 L774.6 284.4 L774.8 284.1 L775.0 283.7 L775.2 283.4 L775.4 283.0 L775.6 282.7 L775.7 282.3 L775.9 282.0 L776.1 281.6 L776.3 281.3 L776.5 280.9 L776.7 280.6 L776.9 280.2 L777.1 279.9 L777.3 279.5 L777.5 279.2 L777.7 278.8 L777.8 278.5 L778.0 278.1 L778.2 277.8 L778.4 277.4 L778.6 277.1 L778.8 276.7 L779.0 276.4 L779.2 276.0 L779.4 275.7 L779.6 275.3 L779.8 275.0 L780.0 274.6 L780.2 274.3 L780.4 274.0 L780.6 273.6 L780.7 273.3 L780.9 272.9 L781.1 272.6 L781.3 272.2 L781.5 271.9 L781.7 271.5 L781.9 271.2 L782.1 270.8 L782.3 270.5 L782.5 270.1 L782.7 269.8 L782.9 269.4 L783.1 269.1 L783.3 268.8 L783.5 268.4 L783.7 268.1 L783.9 267.7 L784.1 267.4 L784.3 267.0 L784.5 266.7 L784.7 266.3 L784.8 266.0 L785.0 265.6 L785.2 265.3 L785.4 264.9 L785.6 264.6 L785.8 264.2 L786.0 263.9 L786.2 263.6 L786.4 263.2 L786.6 262.9 L786.8 262.5 L787.0 262.2 L787.2 261.8 L787.4 261.5 L787.6 261.1 L787.8 260.8 L788.0 260.5 L788.2 260.1 L788.4 259.8 L788.6 259.4 L788.8 259.1 L789.0 258.7 L789.2 258.4 L789.4 258.0 L789.6 257.7 L789.8 257.3 L790.0 257.0 L790.2 256.7 L790.4 256.3 L790.6 256.0 L790.8 255.6 L791.0 255.3 L791.2 254.9 L791.4 254.6 L791.6 254.2 L791.8 253.9 L792.0 253.6 L792.2 253.2 L792.4 252.9 L792.6 252.5 L792.8 252.2 L793.0 251.9 L793.2 251.5 L793.4 251.2 L793.6 250.8 L793.8 250.5 L794.0 250.1 L794.2 249.8 L794.4 249.4 L794.6 249.1 L794.8 248.8 L795.0 248.4 L795.2 248.1 L795.4 247.7 L795.6 247.4 L795.8 247.1 L796.0 246.7 L796.2 246.4 L796.4 246.0 L796.6 245.7 L796.8 245.3 L797.0 245.0 L797.2 244.7 L797.4 244.3 L797.6 244.0 L797.8 243.6 L798.0 243.3 L798.2 243.0 L798.5 242.6 L798.7 242.3 L798.9 241.9 L799.1 241.6 L799.3 241.2 L799.5 240.9 L799.7 240.6 L799.9 240.2 L800.1 239.9 L800.3 239.6 L800.5 239.2 L800.7 238.9 L800.9 238.5 L801.1 238.2 L801.3 237.8 L801.5 237.5 L801.7 237.2 L801.9 236.8 L802.1 236.5 L802.3 236.2 L802.6 235.8 L802.8 235.5 L803.0 235.1 L803.2 234.8 L803.4 234.5 L803.6 234.1 L803.8 233.8 L804.0 233.4 L804.2 233.1 L804.4 232.8 L804.6 232.4 L804.8 232.1 L805.1 231.8 L805.3 231.4 L805.5 231.1 L805.7 230.7 L805.9 230.4 L806.1 230.1 L806.3 229.7 L806.5 229.4 L806.7 229.0 L806.9 228.7 L807.1 228.4 L807.4 228.1 L807.6 227.7 L807.8 227.4 L808.0 227.0 L808.2 226.7 L808.4 226.4 L808.6 226.0 L808.8 225.7 L809.1 225.3 L809.3 225.0 L809.5 224.7 L809.7 224.4 L809.9 224.0 L810.1 223.7 L810.3 223.3 L810.5 223.0 L810.7 222.7 L811.0 222.3 L811.2 222.0 L811.4 221.7 L811.6 221.3 L811.8 221.0 L812.0 220.7 L812.2 220.3 L812.4 220.0 L812.7 219.7 L812.9 219.3 L813.1 219.0 L813.3 218.6 L813.5 218.3 L813.7 218.0 L813.9 217.6 L814.2 217.3 L814.4 217.0 L814.6 216.7 L814.8 216.3 L815.0 216.0 L815.2 215.7 L815.4 215.3 L815.7 215.0 L815.9 214.6 L816.1 214.3 L816.3 214.0 L816.5 213.6 L816.7 213.3 L816.9 213.0 L817.2 212.7 L817.4 212.3 L817.6 212.0 L817.8 211.7 L818.0 211.3 L818.3 211.0 L818.5 210.7 L818.7 210.3 L818.9 210.0 L819.1 209.7 L819.3 209.3 L819.6 209.0 L819.8 208.7 L820.0 208.3 L820.2 208.0 L820.4 207.7 L820.7 207.3 L820.9 207.0 L821.1 206.7 L821.3 206.4 L821.5 206.0 L821.7 205.7 L822.0 205.4 L822.2 205.1 L822.4 204.7 L822.6 204.4 L822.9 204.1 L823.1 203.7 L823.3 203.4 L823.5 203.1 L823.8 202.7 L824.0 202.4 L824.2 202.1 L824.4 201.8 L824.6 201.4 L824.9 201.1 L825.1 200.8 L825.3 200.4 L825.5 200.1 L825.8 199.8 L826.0 199.4 L826.2 199.1 L826.4 198.8 L826.6 198.5 L826.9 198.2 L827.1 197.8 L827.3 197.5 L827.5 197.2 L827.8 196.8 L828.0 196.5 L828.2 196.2 L828.4 195.9 L828.7 195.5 L828.9 195.2 L829.1 194.9 L829.3 194.6 L829.6 194.2 L829.8 193.9 L830.0 193.6 L830.2 193.3 L830.5 192.9 L830.7 192.6 L830.9 192.3 L831.1 192.0 L831.4 191.6 L831.6 191.3 L831.8 191.0 L832.0 190.7 L832.3 190.3 L832.5 190.0 L832.7 189.7 L833.0 189.4 L833.2 189.0 L833.4 188.7 L833.6 188.4 L833.9 188.1 L834.1 187.8 L834.3 187.4 L834.6 187.1 L834.8 186.8 L835.0 186.5 L835.3 186.1 L835.5 185.8 L835.7 185.5 L836.0 185.2 L836.2 184.9 L836.4 184.5 L836.6 184.2 L836.9 183.9 L837.1 183.6 L837.3 183.2 L837.6 182.9 L837.8 182.6 L838.0 182.3 L838.3 182.0 L838.5 181.6 L838.7 181.3 L839.0 181.0 L839.2 180.7 L839.4 180.4 L839.7 180.1 L839.9 179.7 L840.1 179.4 L840.4 179.1 L840.6 178.8 L840.8 178.4 L841.1 178.1 L841.3 177.8 L841.5 177.5 L841.8 177.2 L842.0 176.9 L842.2 176.5 L842.5 176.2 L842.7 175.9 L843.0 175.6 L843.2 175.3 L843.4 175.0 L843.6 174.7 L843.9 174.3 L844.1 174.0 L844.4 173.7 L844.6 173.4 L844.8 173.1 L845.1 172.7 L845.3 172.4 L845.6 172.1 L845.8 171.8 L846.0 171.5 L846.3 171.2 L846.5 170.9 L846.7 170.5 L847.0 170.2 L847.2 169.9 L847.5 169.6 L847.7 169.3 L848.0 169.0 L848.2 168.7 L848.4 168.4 L848.7 168.0 L848.9 167.7 L849.2 167.4 L849.4 167.1 L849.6 166.8 L849.9 166.5 L850.1 166.1 L850.4 165.8 L850.6 165.5 L850.8 165.2 L851.1 164.9 L851.3 164.6 L851.6 164.3 L851.8 164.0 L852.1 163.7 L852.3 163.4 L852.6 163.0 L852.8 162.7 L853.0 162.4 L853.3 162.1 L853.5 161.8 L853.8 161.5 L854.0 161.2 L854.3 160.9 L854.5 160.6 L854.8 160.3 L855.0 159.9 L855.3 159.6 L855.5 159.3 L855.7 159.1 L856.0 158.7 L856.2 158.4 L856.5 158.1 L856.7 157.8 L857.0 157.5 L857.2 157.2 L857.5 156.9 L857.7 156.6 L857.9 156.3 L858.2 156.0 L858.4 155.7 L858.7 155.3 L858.9 155.0 L859.2 154.7 L859.4 154.4 L859.7 154.1 L859.9 153.8 L860.2 153.5 L860.4 153.2 L860.7 152.9 L860.9 152.6 L861.2 152.3 L861.4 152.0 L861.7 151.7 L861.9 151.4 L862.2 151.0 L862.4 150.7 L862.7 150.4 L862.9 150.2 L863.2 149.9 L863.4 149.5 L863.7 149.2 L863.9 148.9 L864.2 148.6 L864.4 148.3 L864.7 148.0 L864.9 147.7 L865.2 147.4 L865.4 147.1 L865.7 146.8 L866.0 146.5 L866.2 146.2 L866.5 145.9 L866.7 145.6 L867.0 145.3 L867.2 145.0 L867.5 144.7 L867.7 144.4 L868.0 144.1 L868.2 143.8 L868.5 143.5 L868.8 143.2 L869.0 142.9 L869.3 142.6 L869.5 142.3 L869.8 142.0 L870.0 141.7 L870.3 141.4 L870.5 141.1 L870.8 140.8 L871.1 140.5 L871.3 140.2 L871.6 139.9 L871.9 139.6 L872.1 139.3 L872.4 139.1 L872.6 138.8 L872.9 138.5 L873.1 138.2 L873.4 137.9 L873.7 137.6 L873.9 137.3 L874.2 137.0 L874.5 136.7 L874.7 136.4 L875.0 136.1 L875.2 135.8 L875.5 135.5 L875.8 135.2 L876.0 134.9 L876.3 134.6 L876.6 134.4 L876.8 134.1 L877.1 133.8 L877.3 133.5 L877.6 133.2 L877.9 132.9 L878.1 132.6 L878.4 132.3 L878.7 132.0 L879.0 131.7 L879.2 131.5 L879.5 131.2 L879.7 130.9 L880.0 130.6 L880.3 130.3 L880.5 130.0 L880.8 129.7 L881.1 129.4 L881.4 129.2 L881.6 128.9 L881.9 128.6 L882.1 128.3 L882.4 128.0 L882.7 127.7 L883.0 127.5 L883.2 127.2 L883.5 126.9 L883.8 126.6 L884.0 126.3 L884.3 126.1 L884.6 125.8 L884.8 125.5 L885.1 125.2 L885.4 124.9 L885.7 124.6 L886.0 124.3 L886.2 124.0 L886.5 123.8 L886.7 123.5 L887.0 123.2 L887.3 123.0 L887.6 122.7 L887.9 122.4 L888.1 122.1 L888.4 121.8 L888.7 121.5 L889.0 121.3 L889.2 121.0 L889.5 120.7 L889.8 120.4 L890.1 120.2 L890.4 119.9 L890.6 119.6 L890.9 119.3 L891.2 119.1 L891.4 118.8 L891.7 118.5 L892.0 118.3 L892.3 118.0 L892.6 117.7 L892.9 117.4 L893.2 117.1 L893.4 116.9 L893.7 116.6 L894.0 116.3 L894.2 116.1 L894.5 115.8 L894.8 115.5 L895.1 115.2 L895.4 115.0 L895.7 114.7 L896.0 114.4 L896.2 114.2 L896.5 113.9 L896.8 113.6 L897.1 113.4 L897.4 113.1 L897.7 112.8 L898.0 112.5 L898.2 112.3 L898.5 112.0 L898.8 111.8 L899.1 111.5 L899.4 111.2 L899.7 111.0 L900.0 110.7 L900.3 110.4 L900.5 110.2 L900.8 109.9 L901.1 109.7 L901.4 109.4 L901.7 109.1 L902.0 108.9 L902.3 108.6 L902.6 108.3 L902.9 108.1 L903.1 107.8 L903.4 107.6 L903.7 107.3 L904.0 107.1 L904.3 106.8 L904.6 106.5 L904.9 106.3 L905.2 106.0 L905.5 105.8 L905.7 105.5 L906.0 105.3 L906.3 105.0 L906.7 104.7 L907.0 104.5 L907.3 104.2 L907.6 104.0 L907.8 103.7 L908.1 103.5 L908.4 103.2 L908.7 103.0 L909.0 102.7 L909.3 102.5 L909.6 102.2 L909.9 102.0 L910.2 101.7 L910.5 101.5 L910.8 101.2 L911.1 101.0 L911.4 100.7 L911.7 100.5 L912.0 100.2 L912.3 100.0 L912.6 99.8 L912.9 99.5 L913.2 99.3 L913.5 99.0 L913.8 98.8 L914.1 98.5 L914.4 98.3 L914.7 98.0 L915.0 97.8 L915.3 97.6 L915.6 97.3 L915.9 97.1 L916.3 96.8 L916.6 96.6 L916.9 96.3 L917.2 96.1 L917.5 95.9 L917.8 95.7 L918.1 95.4 L918.4 95.2 L918.7 94.9 L919.0 94.7 L919.3 94.4 L919.6 94.2 L919.9 94.0 L920.2 93.8 L920.6 93.5 L920.9 93.3 L921.2 93.1 L921.5 92.8 L921.8 92.6 L922.1 92.4 L922.4 92.2 L922.7 91.9 L923.1 91.7 L923.4 91.5 L923.7 91.2 L924.0 91.0 L924.3 90.8 L924.6 90.6 L924.9 90.3 L925.2 90.1 L925.6 89.9 L925.9 89.6 L926.2 89.4 L926.5 89.2 L926.8 89.0 L927.1 88.8 L927.5 88.5 L927.8 88.3 L928.1 88.1 L928.4 87.9 L928.8 87.6 L929.1 87.4 L929.4 87.2 L929.7 87.0 L930.0 86.8 L930.4 86.6 L930.7 86.3 L931.0 86.1 L931.3 85.9 L931.6 85.7 L931.9 85.5 L932.3 85.3 L932.6 85.1 L932.9 84.8 L933.3 84.6 L933.6 84.4 L933.9 84.2 L934.2 84.0 L934.5 83.8 L934.9 83.6 L935.2 83.4 L935.6 83.2 L935.9 83.0 L936.2 82.8 L936.5 82.6 L936.8 82.4 L937.2 82.1 L937.5 81.9 L937.8 81.7 L938.2 81.5 L938.5 81.3 L938.8 81.1 L939.1 80.9 L939.5 80.7 L939.8 80.5 L940.2 80.3 L940.5 80.1 L940.8 79.9 L941.1 79.7 L941.4 79.5 L941.8 79.3 L942.1 79.1 L942.5 78.9 L942.8 78.7 L943.1 78.5 L943.4 78.4 L943.8 78.2 L944.1 78.0 L944.5 77.8 L944.8 77.6 L945.2 77.4 L945.5 77.2 L945.8 77.0 L946.1 76.8 L946.5 76.6 L946.8 76.4 L947.2 76.2 L947.5 76.1 L947.8 75.9 L948.2 75.7 L948.5 75.5 L948.9 75.3 L949.2 75.1 L949.6 74.9 L949.9 74.8 L950.2 74.6 L950.5 74.4 L950.9 74.2 L951.2 74.0 L951.6 73.9 L951.9 73.7 L952.3 73.5 L952.6 73.3 L952.9 73.2 L953.3 73.0 L953.6 72.8 L954.0 72.6 L954.4 72.4 L954.7 72.3 L955.0 72.1 L955.3 71.9 L955.7 71.8 L956.1 71.6 L956.4 71.4 L956.8 71.2 L957.1 71.1 L957.4 70.9 L957.8 70.7 L958.1 70.6 L958.5 70.4 L958.9 70.2 L959.2 70.0 L959.5 69.9 L959.9 69.7 L960.2 69.6 L960.6 69.4 L960.9 69.2 L961.3 69.1 L961.7 68.9 L962.0 68.7 L962.3 68.6 L962.7 68.4 L963.0 68.3 L963.4 68.1 L963.8 67.9 L964.1 67.8 L964.4 67.6 L964.8 67.5 L965.2 67.3 L965.5 67.1 L965.9 67.0 L966.3 66.8 L966.6 66.7 L966.9 66.5 L967.3 66.4 L967.6 66.2 L968.0 66.1 L968.4 65.9 L968.7 65.8 L969.1 65.6 L969.4 65.5 L969.8 65.3 L970.1 65.2 L970.5 65.0 L970.9 64.9 L971.2 64.7 L971.5 64.6 L971.9 64.4 L972.3 64.3 L972.7 64.1 L973.0 64.0 L973.4 63.9 L973.7 63.7 L974.1 63.6 L974.4 63.4 L974.8 63.3 L975.2 63.1 L975.6 63.0 L975.9 62.9 L976.2 62.7 L976.6 62.6 L977.0 62.5 L977.3 62.3 L977.7 62.2 L978.1 62.0 L978.4 61.9 L978.8 61.8 L979.1 61.7 L979.5 61.5 L979.9 61.4 L980.3 61.2 L980.6 61.1 L981.0 61.0 L981.3 60.9 L981.7 60.7 L982.1 60.6 L982.5 60.5 L982.8 60.3 L983.2 60.2 L983.5 60.1 L983.9 60.0 L984.3 59.8 L984.7 59.7 L985.0 59.6 L985.4 59.5 L985.7 59.4 L986.1 59.2 L986.5 59.1 L986.9 59.0 L987.2 58.9 L987.6 58.7 L987.9 58.6 L988.3 58.5 L988.7 58.4 L989.1 58.3 L989.4 58.1 L989.8 58.0 L990.2 57.9 L990.5 57.8 L990.9 57.7 L991.3 57.6 L991.7 57.5 L992.0 57.3 L992.4 57.2 L992.7 57.1 L993.1 57.0 L993.5 56.9 L993.9 56.8 L994.3 56.7 L994.6 56.6 L995.0 56.5 L995.4 56.4 L995.7 56.2 L996.1 56.1 L996.5 56.0 L996.9 55.9 L997.2 55.8 L997.6 55.7 L998.0 55.6 L998.4 55.5 L998.8 55.4 L999.1 55.3 L999.5 55.2 L999.8 55.1 L1000.2 55.0 L1000.6 54.9 L1001.0 54.8 L1001.4 54.7 L1001.8 54.6 L1002.1 54.5 L1002.5 54.4 L1002.9 54.3 L1003.3 54.2 L1003.6 54.1 L1004.0 54.0 L1004.4 53.9 L1004.7 53.8 L1005.1 53.7 L1005.5 53.6 L1005.9 53.5 L1006.3 53.4 L1006.7 53.3 L1007.0 53.3 L1007.4 53.2 L1007.8 53.1 L1008.2 53.0 L1008.6 52.9 L1008.9 52.8 L1009.3 52.7 L1009.7 52.6 L1010.1 52.5 L1010.5 52.4 L1010.8 52.4 L1011.2 52.3 L1011.6 52.2 L1012.0 52.1 L1012.3 52.0 L1012.7 51.9 L1013.1 51.8 L1013.5 51.8 L1013.9 51.7 L1014.2 51.6 L1014.6 51.5 L1015.0 51.4 L1015.4 51.3 L1015.8 51.2 L1016.4 51.1 L1016.9 51.0 L1017.3 50.9 L1017.7 50.8 L1018.1 50.7 L1018.5 50.6 L1018.9 50.5 L1019.3 50.4 L1019.7 50.3 L1020.0 50.2 L1020.4 50.1 L1020.8 49.9 L1021.2 49.8 L1021.6 49.7 L1022.0 49.6 L1022.4 49.5 L1022.7 49.4 L1023.1 49.3 L1023.5 49.2 L1023.9 49.1 L1020.1 34.8 L1019.7 34.9 L1019.3 35.1 L1019.0 35.3 L1018.6 35.4 L1018.0 34.8 L1017.7 35.0 L1017.3 35.2 L1016.9 35.3 L1016.5 35.5 L1016.2 35.7 L1015.8 35.9 L1015.4 36.0 L1015.1 36.2 L1014.7 36.4 L1014.3 36.5 L1013.8 35.9 L1013.4 36.1 L1013.0 36.3 L1012.8 36.4 L1012.6 36.5 L1012.3 36.7 L1011.9 36.8 L1011.5 37.0 L1011.1 37.1 L1010.7 37.3 L1010.3 37.4 L1010.0 37.6 L1009.4 37.0 L1009.0 37.1 L1008.6 37.3 L1008.3 37.4 L1007.9 37.6 L1007.5 37.8 L1007.1 37.9 L1006.7 38.1 L1006.3 38.2 L1006.0 38.4 L1005.6 38.6 L1005.0 37.9 L1004.6 38.1 L1004.2 38.3 L1003.9 38.4 L1003.5 38.6 L1003.1 38.8 L1002.7 38.9 L1002.3 39.1 L1001.9 39.3 L1001.6 39.4 L1001.2 39.6 L1000.8 39.8 L1000.2 39.2 L999.8 39.3 L999.5 39.5 L999.1 39.7 L998.7 39.8 L998.3 40.0 L997.9 40.2 L997.6 40.4 L997.2 40.5 L996.8 40.7 L996.5 40.9 L995.9 40.3 L995.5 40.4 L995.1 40.6 L994.7 40.8 L994.3 41.0 L994.0 41.2 L993.6 41.3 L993.2 41.5 L992.8 41.7 L992.5 41.9 L992.1 42.1 L991.7 42.3 L991.1 41.6 L990.7 41.8 L990.3 42.0 L990.0 42.2 L989.6 42.4 L989.2 42.6 L988.9 42.7 L988.5 42.9 L988.1 43.1 L987.7 43.3 L987.4 43.5 L986.8 42.9 L986.4 43.1 L986.0 43.3 L985.7 43.5 L985.3 43.7 L984.9 43.9 L984.5 44.1 L984.2 44.2 L983.8 44.4 L983.4 44.6 L983.1 44.8 L982.7 45.0 L982.1 44.4 L981.7 44.6 L981.3 44.8 L981.0 45.0 L980.6 45.2 L980.2 45.4 L979.8 45.6 L979.5 45.8 L979.1 46.0 L978.8 46.2 L978.4 46.4 L977.7 45.8 L977.4 46.1 L977.0 46.3 L976.7 46.5 L976.3 46.7 L976.0 46.9 L975.6 47.1 L975.2 47.3 L974.8 47.5 L974.5 47.7 L974.1 47.9 L973.8 48.1 L973.1 47.5 L972.7 47.8 L972.4 48.0 L972.0 48.2 L971.7 48.4 L971.3 48.6 L971.0 48.8 L970.6 49.1 L970.2 49.3 L969.9 49.5 L969.5 49.7 L968.9 49.1 L968.5 49.3 L968.1 49.6 L967.8 49.8 L967.4 50.0 L967.1 50.2 L966.7 50.5 L966.4 50.7 L966.0 50.9 L965.7 51.1 L965.3 51.4 L964.9 51.6 L964.3 51.0 L963.9 51.2 L963.6 51.5 L963.2 51.7 L962.9 51.9 L962.5 52.2 L962.2 52.4 L961.8 52.6 L961.5 52.9 L961.1 53.1 L960.8 53.3 L960.0 52.8 L959.7 53.0 L959.4 53.2 L959.0 53.5 L958.7 53.7 L958.4 53.9 L958.0 54.2 L957.6 54.4 L957.3 54.7 L957.0 54.9 L956.6 55.1 L956.3 55.4 L955.6 54.8 L955.2 55.1 L954.9 55.3 L954.5 55.6 L954.2 55.8 L953.9 56.0 L953.5 56.3 L953.2 56.5 L952.8 56.8 L952.5 57.0 L952.2 57.3 L951.5 56.7 L951.1 57.0 L950.8 57.2 L950.4 57.5 L950.1 57.7 L949.7 58.0 L949.4 58.2 L949.1 58.5 L948.8 58.7 L948.4 59.0 L948.1 59.3 L947.7 59.5 L947.0 59.0 L946.7 59.2 L946.4 59.5 L946.1 59.7 L945.7 60.0 L945.3 60.3 L945.0 60.5 L944.7 60.8 L944.4 61.0 L944.1 61.3 L943.7 61.6 L943.0 61.0 L942.6 61.3 L942.3 61.6 L942.0 61.8 L941.7 62.1 L941.4 62.4 L941.0 62.6 L940.7 62.9 L940.4 63.2 L940.0 63.4 L939.7 63.7 L939.4 64.0 L938.7 63.5 L938.4 63.7 L938.0 64.0 L937.7 64.3 L937.3 64.6 L937.0 64.8 L936.7 65.1 L936.4 65.4 L936.1 65.6 L935.8 65.9 L935.4 66.2 L934.7 65.7 L934.4 66.0 L934.1 66.2 L933.8 66.5 L933.5 66.8 L933.1 67.1 L932.8 67.4 L932.5 67.7 L932.2 67.9 L931.9 68.2 L931.6 68.5 L931.3 68.8 L930.5 68.3 L930.1 68.6 L929.8 68.9 L929.5 69.1 L929.2 69.4 L928.9 69.7 L928.6 70.0 L928.3 70.3 L928.0 70.6 L927.7 70.9 L927.4 71.1 L926.6 70.7 L926.3 70.9 L926.0 71.2 L925.7 71.5 L925.4 71.8 L925.1 72.1 L924.8 72.4 L924.5 72.7 L924.2 73.0 L923.9 73.3 L923.6 73.6 L923.3 73.9 L922.4 73.4 L922.2 73.7 L921.9 74.0 L921.6 74.3 L921.3 74.6 L921.0 74.9 L920.7 75.2 L920.4 75.5 L920.1 75.8 L919.8 76.1 L919.5 76.4 L918.7 75.9 L918.4 76.2 L918.1 76.5 L917.8 76.8 L917.5 77.2 L917.2 77.5 L917.0 77.8 L916.7 78.0 L916.4 78.3 L916.1 78.6 L915.8 79.0 L915.5 79.3 L914.7 78.8 L914.4 79.1 L914.1 79.4 L913.8 79.7 L913.6 80.0 L913.3 80.4 L913.0 80.7 L912.7 81.0 L912.4 81.3 L912.1 81.6 L911.9 81.9 L911.0 81.5 L910.8 81.8 L910.5 82.1 L910.2 82.4 L909.9 82.8 L909.6 83.1 L909.3 83.4 L909.1 83.7 L908.8 84.0 L908.5 84.3 L908.2 84.6 L908.0 85.0 L907.1 84.5 L906.8 84.9 L906.6 85.2 L906.3 85.5 L906.1 85.8 L905.8 86.1 L905.5 86.5 L905.2 86.8 L904.9 87.1 L904.7 87.4 L904.4 87.7 L903.6 87.3 L903.3 87.6 L903.0 88.0 L902.7 88.3 L902.5 88.6 L902.2 88.9 L902.0 89.3 L901.7 89.6 L901.4 89.9 L901.2 90.2 L900.9 90.6 L900.6 90.9 L899.8 90.5 L899.5 90.8 L899.2 91.1 L899.0 91.5 L898.7 91.8 L898.5 92.1 L898.2 92.5 L897.9 92.8 L897.7 93.1 L897.4 93.5 L897.2 93.8 L896.3 93.4 L896.1 93.7 L895.8 94.0 L895.5 94.4 L895.3 94.7 L895.0 95.1 L894.8 95.4 L894.5 95.7 L894.3 96.0 L894.0 96.4 L893.8 96.7 L893.5 97.0 L892.6 96.7 L892.4 97.0 L892.1 97.3 L891.9 97.7 L891.6 98.0 L891.4 98.3 L891.2 98.7 L890.9 99.0 L890.6 99.4 L890.4 99.7 L890.2 100.0 L889.3 99.7 L889.0 100.0 L888.8 100.3 L888.6 100.7 L888.3 101.0 L888.0 101.4 L887.8 101.7 L887.6 102.1 L887.3 102.4 L887.1 102.7 L886.9 103.1 L886.6 103.4 L885.7 103.0 L885.5 103.4 L885.2 103.8 L885.0 104.1 L884.7 104.4 L884.5 104.8 L884.3 105.1 L884.1 105.4 L883.8 105.8 L883.6 106.1 L883.3 106.5 L882.4 106.2 L882.2 106.5 L882.0 106.8 L881.7 107.2 L881.5 107.5 L881.3 107.9 L881.0 108.2 L880.8 108.6 L880.6 108.9 L880.3 109.3 L880.1 109.6 L879.9 109.9 L879.0 109.6 L878.8 109.9 L878.5 110.3 L878.3 110.6 L878.0 111.0 L877.8 111.4 L877.6 111.7 L877.4 112.1 L877.2 112.4 L876.9 112.7 L876.7 113.1 L875.8 112.8 L875.6 113.1 L875.3 113.5 L875.1 113.8 L874.9 114.2 L874.7 114.5 L874.4 114.9 L874.2 115.2 L874.0 115.6 L873.8 115.9 L873.6 116.3 L873.3 116.7 L872.4 116.3 L872.2 116.7 L872.0 117.0 L871.8 117.4 L871.5 117.7 L871.3 118.1 L871.1 118.4 L870.9 118.8 L870.7 119.2 L870.4 119.5 L870.2 119.9 L869.3 119.6 L869.1 119.9 L868.9 120.3 L868.7 120.6 L868.5 121.0 L868.2 121.4 L868.0 121.7 L867.8 122.1 L867.6 122.4 L867.4 122.8 L867.2 123.1 L867.0 123.5 L866.0 123.2 L865.8 123.5 L865.6 123.9 L865.4 124.3 L865.2 124.6 L865.0 125.0 L864.8 125.3 L864.6 125.7 L864.4 126.0 L864.2 126.4 L863.9 126.8 L863.0 126.5 L862.8 126.9 L862.6 127.2 L862.4 127.6 L862.2 127.9 L862.0 128.3 L861.8 128.6 L861.6 129.0 L861.4 129.4 L861.1 129.7 L860.9 130.1 L860.7 130.5 L859.8 130.2 L859.6 130.5 L859.4 130.9 L859.2 131.3 L859.0 131.6 L858.8 132.0 L858.6 132.4 L858.4 132.7 L858.2 133.1 L858.0 133.5 L857.8 133.8 L856.8 133.5 L856.6 133.9 L856.5 134.2 L856.3 134.6 L856.0 135.0 L855.8 135.4 L855.6 135.7 L855.5 136.1 L855.3 136.5 L855.1 136.8 L854.9 137.2 L854.7 137.5 L853.7 137.3 L853.5 137.6 L853.3 138.0 L853.1 138.4 L852.9 138.8 L852.8 139.1 L852.6 139.5 L852.4 139.9 L852.2 140.2 L852.0 140.6 L851.8 141.0 L850.8 140.7 L850.6 141.1 L850.4 141.4 L850.3 141.8 L850.1 142.2 L849.9 142.6 L849.7 142.9 L849.6 143.3 L849.4 143.7 L849.2 144.0 L849.0 144.4 L848.8 144.8 L847.8 144.5 L847.6 144.9 L847.4 145.2 L847.3 145.6 L847.1 146.0 L846.9 146.4 L846.7 146.7 L846.6 147.1 L846.4 147.5 L846.2 147.9 L846.0 148.3 L845.0 147.9 L844.8 148.3 L844.6 148.7 L844.5 149.1 L844.3 149.5 L844.1 149.8 L844.0 150.2 L843.8 150.6 L843.6 151.0 L843.5 151.4 L843.3 151.8 L843.1 152.2 L842.0 151.8 L841.9 152.2 L841.7 152.6 L841.5 153.0 L841.4 153.4 L841.2 153.8 L841.1 154.2 L840.9 154.5 L840.7 154.9 L840.6 155.3 L840.4 155.7 L839.3 155.3 L839.1 155.7 L839.0 156.1 L838.8 156.5 L838.6 156.9 L838.5 157.3 L838.3 157.7 L838.2 158.1 L838.1 158.5 L837.9 158.9 L837.8 159.3 L837.6 159.7 L836.4 159.2 L836.2 159.6 L836.1 160.1 L836.0 160.4 L835.8 160.8 L835.7 161.2 L835.5 161.6 L835.4 162.0 L835.3 162.4 L835.1 162.8 L835.0 163.2 L833.7 162.8 L833.6 163.2 L833.4 163.6 L833.3 164.0 L833.1 164.4 L833.0 164.8 L832.9 165.2 L832.7 165.6 L832.6 166.0 L832.5 166.4 L832.3 166.8 L832.2 167.2 L830.9 166.8 L830.8 167.2 L830.6 167.6 L830.5 168.0 L830.4 168.4 L830.2 168.8 L830.1 169.2 L830.0 169.6 L829.9 170.0 L829.7 170.4 L829.6 170.8 L828.3 170.4 L828.1 170.8 L828.0 171.2 L827.9 171.6 L827.8 172.0 L827.6 172.4 L827.5 172.8 L827.4 173.2 L827.3 173.6 L827.1 174.0 L827.0 174.4 L826.9 174.9 L825.5 174.4 L825.4 174.8 L825.3 175.2 L825.2 175.6 L825.0 176.0 L824.9 176.4 L824.8 176.8 L824.7 177.2 L824.6 177.7 L824.5 178.1 L824.4 178.5 L822.9 178.0 L822.8 178.4 L822.7 178.8 L822.6 179.2 L822.5 179.6 L822.4 180.0 L822.3 180.4 L822.1 180.9 L822.0 181.3 L821.9 181.7 L821.8 182.1 L821.7 182.5 L820.2 182.0 L820.1 182.4 L820.0 182.8 L819.9 183.2 L819.8 183.7 L819.7 184.1 L819.6 184.5 L819.5 184.9 L819.4 185.4 L819.3 185.8 L819.2 186.2 L817.7 185.6 L817.6 186.1 L817.5 186.5 L817.4 186.9 L817.3 187.3 L817.2 187.8 L817.1 188.2 L817.0 188.6 L816.9 189.0 L816.8 189.4 L816.7 189.9 L816.6 190.3 L815.1 189.7 L815.0 190.1 L814.9 190.5 L814.8 191.0 L814.7 191.4 L814.6 191.8 L814.5 192.3 L814.4 192.7 L814.3 193.1 L814.2 193.5 L814.2 194.0 L812.6 193.4 L812.5 193.8 L812.4 194.2 L812.3 194.7 L812.2 195.1 L812.1 195.5 L812.0 195.9 L811.9 196.4 L811.9 196.8 L811.8 197.2 L811.7 197.7 L811.6 198.1 L810.0 197.5 L809.9 197.9 L809.8 198.3 L809.7 198.8 L809.6 199.2 L809.6 199.6 L809.5 200.1 L809.4 200.5 L809.3 200.9 L809.3 201.4 L809.2 201.8 L807.5 201.2 L807.4 201.6 L807.4 202.0 L807.3 202.5 L807.2 202.9 L807.1 203.3 L807.1 203.8 L807.0 204.2 L806.9 204.6 L806.9 205.1 L806.8 205.5 L806.7 205.9 L805.0 205.3 L804.9 205.7 L804.8 206.2 L804.8 206.6 L804.7 207.0 L804.6 207.5 L804.6 207.9 L804.5 208.3 L804.5 208.8 L804.4 209.2 L804.3 209.7 L802.6 209.0 L802.5 209.4 L802.4 209.9 L802.4 210.3 L802.3 210.8 L802.2 211.2 L802.2 211.6 L802.1 212.1 L802.1 212.5 L802.0 212.9 L802.0 213.4 L801.9 213.8 L800.1 213.2 L800.0 213.6 L800.0 214.1 L799.9 214.5 L799.8 214.9 L799.8 215.4 L799.7 215.8 L799.7 216.3 L799.6 216.7 L799.6 217.1 L799.5 217.6 L797.7 216.9 L797.6 217.3 L797.6 217.8 L797.5 218.2 L797.5 218.7 L797.4 219.1 L797.4 219.6 L797.3 220.0 L797.3 220.4 L797.2 220.9 L797.2 221.3 L797.2 221.8 L795.3 221.1 L795.2 221.5 L795.2 222.0 L795.1 222.4 L795.1 222.9 L795.0 223.3 L795.0 223.8 L794.9 224.2 L794.9 224.6 L794.9 225.1 L794.8 225.5 L792.9 224.8 L792.8 225.3 L792.8 225.7 L792.8 226.2 L792.7 226.6 L792.7 227.1 L792.7 227.5 L792.6 228.0 L792.6 228.4 L792.5 228.9 L792.5 229.3 L792.5 229.8 L790.5 229.0 L790.5 229.5 L790.4 229.9 L790.4 230.4 L790.4 230.8 L790.3 231.3 L790.3 231.7 L790.3 232.2 L790.2 232.6 L790.2 233.1 L790.2 233.5 L788.2 232.8 L788.1 233.2 L788.1 233.7 L788.1 234.2 L788.0 234.6 L788.0 235.1 L788.0 235.5 L788.0 236.0 L788.0 236.4 L787.9 236.9 L787.9 237.3 L787.9 237.8 L785.8 237.0 L785.8 237.5 L785.8 237.9 L785.8 238.4 L785.7 238.9 L785.7 239.3 L785.7 239.8 L785.7 240.2 L785.7 240.7 L785.6 241.1 L785.6 241.6 L783.5 240.8 L783.5 241.3 L783.5 241.7 L783.5 242.2 L783.4 242.6 L783.4 243.1 L783.4 243.5 L783.4 244.0 L783.4 244.4 L783.4 244.9 L783.3 245.4 L783.3 245.8 L781.2 245.1 L781.2 245.5 L781.2 246.0 L781.2 246.4 L781.1 246.9 L781.1 247.3 L781.1 247.8 L781.1 248.2 L781.1 248.7 L781.1 249.1 L781.1 249.6 L778.9 248.9 L778.9 249.3 L778.9 249.8 L778.9 250.2 L778.9 250.7 L778.9 251.1 L778.8 251.6 L778.8 252.0 L778.8 252.5 L778.8 252.9 L778.8 253.4 L778.8 253.9 L776.7 253.1 L776.7 253.6 L776.7 254.0 L776.6 254.5 L776.6 254.9 L776.6 255.4 L776.6 255.9 L776.6 256.3 L776.6 256.8 L776.6 257.2 L776.5 257.7 L774.4 256.9 L774.4 257.4 L774.4 257.8 L774.4 258.3 L774.4 258.7 L774.4 259.2 L774.4 259.7 L774.4 260.1 L774.3 260.6 L774.3 261.0 L774.3 261.5 L774.3 261.9 L772.2 261.2 L772.2 261.7 L772.2 262.1 L772.2 262.6 L772.2 263.0 L772.2 263.5 L772.1 263.9 L772.1 264.4 L772.1 264.9 L772.1 265.3 L772.1 265.8 L770.0 265.1 L770.0 265.5 L770.0 266.0 L770.0 266.4 L770.0 266.9 L770.0 267.3 L769.9 267.8 L769.9 268.2 L769.9 268.7 L769.9 269.1 L769.9 269.6 L769.9 270.1 L767.8 269.3 L767.8 269.8 L767.8 270.3 L767.8 270.7 L767.8 271.2 L767.8 271.6 L767.8 272.1 L767.7 272.5 L767.7 273.0 L767.7 273.4 L767.7 273.9 L765.6 273.2 L765.6 273.7 L765.6 274.1 L765.6 274.6 L765.6 275.0 L765.6 275.5 L765.6 275.9 L765.6 276.4 L765.6 276.8 L765.6 277.3 L765.6 277.7 L765.6 278.2 L763.4 277.5 L763.4 278.0 L763.4 278.4 L763.4 278.9 L763.4 279.3 L763.4 279.8 L763.4 280.2 L763.4 280.7 L763.4 281.1 L763.4 281.6 L763.4 282.0 L761.3 281.4 L761.3 281.8 L761.3 282.3 L761.3 282.7 L761.3 283.2 L761.3 283.6 L761.3 284.1 L761.3 284.5 L761.3 285.0 L761.3 285.5 L761.3 285.9 L761.3 286.4 L759.1 285.7 L759.1 286.1 L759.1 286.6 L759.1 287.1 L759.1 287.5 L759.1 288.0 L759.1 288.4 L759.1 288.9 L759.1 289.3 L759.1 289.8 L759.1 290.2 L757.0 289.6 L757.0 290.0 L757.0 290.5 L757.0 290.9 L757.0 291.4 L757.0 291.8 L757.0 292.3 L757.0 292.7 L757.0 293.2 L757.0 293.7 L757.0 294.1 L757.0 294.6 L754.9 293.9 L754.9 294.3 L754.9 294.8 L754.9 295.3 L754.9 295.7 L754.9 296.2 L754.9 296.6 L754.9 297.1 L754.9 297.5 L754.9 298.0 L754.9 298.4 L752.8 297.8 L752.8 298.2 L752.8 298.7 L752.8 299.1 L752.8 299.6 L752.8 300.0 L752.8 300.5 L752.8 300.9 L752.8 301.4 L752.8 301.9 L752.8 302.3 L752.8 302.8 L750.7 302.1 L750.7 302.6 L750.7 303.0 L750.7 303.5 L750.7 303.9 L750.7 304.4 L750.7 304.8 L750.7 305.3 L750.7 305.7 L750.7 306.2 L750.7 306.7 L748.5 306.0 L748.6 306.5 L748.6 306.9 L748.6 307.4 L748.6 307.8 L748.6 308.3 L748.6 308.7 L748.6 309.2 L748.6 309.6 L748.6 310.1 L748.6 310.5 L748.6 311.0 L746.5 310.4 L746.5 310.8 L746.5 311.3 L746.5 311.7 L746.5 312.2 L746.5 312.6 L746.5 313.1 L746.5 313.5 L746.5 314.0 L746.6 314.4 L746.6 314.9 L744.4 314.2 L744.4 314.7 L744.4 315.2 L744.4 315.6 L744.4 316.1 L744.4 316.5 L744.5 317.0 L744.5 317.4 L744.5 317.9 L744.5 318.3 L744.5 318.8 L744.5 319.2 L742.3 318.6 L742.4 319.1 L742.4 319.5 L742.4 320.0 L742.4 320.4 L742.4 320.9 L742.4 321.3 L742.4 321.8 L742.4 322.2 L742.4 322.7 L742.5 323.2 L740.3 322.5 L740.3 323.0 L740.3 323.4 L740.3 323.9 L740.3 324.3 L740.4 324.8 L740.4 325.2 L740.4 325.7 L740.4 326.2 L740.4 326.6 L740.4 327.1 L740.4 327.5 L738.3 326.9 L738.3 327.3 L738.3 327.8 L738.3 328.3 L738.3 328.7 L738.3 329.2 L738.3 329.6 L738.4 330.1 L738.4 330.5 L738.4 331.0 L738.4 331.4 L736.2 330.8 L736.2 331.3 L736.3 331.7 L736.3 332.2 L736.3 332.6 L736.3 333.1 L736.3 333.5 L736.3 334.0 L736.4 334.4 L736.4 334.9 L736.4 335.4 L736.4 335.8 L734.2 335.2 L734.2 335.7 L734.2 336.1 L734.3 336.6 L734.3 337.0 L734.3 337.5 L734.3 337.9 L734.3 338.4 L734.4 338.8 L734.4 339.3 L734.4 339.7 L732.2 339.1 L732.2 339.6 L732.2 340.0 L732.3 340.5 L732.3 341.0 L732.3 341.4 L732.3 341.9 L732.3 342.3 L732.4 342.8 L732.4 343.2 L732.4 343.7 L732.4 344.1 L730.2 343.5 L730.3 344.0 L730.3 344.4 L730.3 344.9 L730.3 345.4 L730.3 345.8 L730.4 346.3 L730.4 346.7 L730.4 347.2 L730.4 347.6 L730.4 348.1 L728.2 347.5 L728.3 347.9 L728.3 348.4 L728.3 348.8 L728.3 349.3 L728.4 349.7 L728.4 350.2 L728.4 350.7 L728.4 351.1 L728.4 351.6 L728.5 352.0 L728.5 352.5 L726.3 351.9 L726.3 352.3 L726.3 352.8 L726.4 353.2 L726.4 353.7 L726.4 354.1 L726.4 354.6 L726.5 355.1 L726.5 355.5 L726.5 356.0 L726.5 356.4 L724.3 355.8 L724.3 356.3 L724.4 356.7 L724.4 357.2 L724.4 357.7 L724.4 358.1 L724.5 358.6 L724.5 359.0 L724.5 359.5 L724.5 359.9 L724.6 360.4 L724.6 360.8 L722.4 360.2 L722.4 360.7 L722.4 361.2 L722.5 361.6 L722.5 362.1 L722.5 362.5 L722.5 363.0 L722.6 363.4 L722.6 363.9 L722.6 364.3 L722.7 364.8 L720.4 364.2 L720.5 364.7 L720.5 365.1 L720.5 365.6 L720.5 366.0 L720.6 366.5 L720.6 366.9 L720.6 367.4 L720.7 367.9 L720.7 368.3 L720.7 368.8 L720.7 369.2 L718.5 368.6 L718.6 369.1 L718.6 369.5 L718.6 370.0 L718.6 370.5 L718.7 370.9 L718.7 371.4 L718.7 371.8 L718.8 372.3 L718.8 372.7 L718.8 373.2 L716.6 372.6 L716.6 373.1 L716.7 373.5 L716.7 374.0 L716.7 374.4 L716.8 374.9 L716.8 375.3 L716.8 375.8 L716.8 376.2 L716.9 376.7 L716.9 377.2 L716.9 377.6 L714.7 377.1 L714.7 377.5 L714.8 378.0 L714.8 378.4 L714.8 378.9 L714.9 379.3 L714.9 379.8 L714.9 380.2 L715.0 380.7 L715.0 381.1 L715.0 381.6 L712.8 381.0 L712.8 381.5 L712.9 381.9 L712.9 382.4 L712.9 382.9 L713.0 383.3 L713.0 383.8 L713.0 384.2 L713.1 384.7 L713.1 385.1 L713.1 385.6 L713.2 386.0 L710.9 385.5 L711.0 385.9 L711.0 386.4 L711.1 386.8 L711.1 387.3 L711.1 387.7 L711.1 388.2 L711.2 388.7 L711.2 389.1 L711.3 389.6 L711.3 390.0 L709.1 389.5 L709.1 389.9 L709.1 390.4 L709.2 390.8 L709.2 391.3 L709.2 391.7 L709.3 392.2 L709.3 392.6 L709.3 393.1 L709.4 393.5 L709.4 394.0 L709.4 394.5 L707.2 393.9 L707.2 394.4 L707.3 394.8 L707.3 395.3 L707.4 395.7 L707.4 396.2 L707.4 396.6 L707.5 397.1 L707.5 397.5 L707.5 398.0 L707.6 398.4 L705.3 397.9 L705.4 398.4 L705.4 398.8 L705.5 399.3 L705.5 399.7 L705.5 400.2 L705.6 400.6 L705.6 401.1 L705.6 401.5 L705.7 402.0 L705.7 402.5 L705.8 402.9 L703.5 402.4 L703.6 402.8 L703.6 403.3 L703.6 403.7 L703.7 404.2 L703.7 404.6 L703.8 405.1 L703.8 405.6 L703.8 406.0 L703.9 406.5 L703.9 406.9 L701.7 406.4 L701.7 406.8 L701.8 407.3 L701.8 407.7 L701.8 408.2 L701.9 408.6 L701.9 409.1 L702.0 409.6 L702.0 410.0 L702.0 410.5 L702.1 410.9 L702.1 411.4 L699.9 410.8 L699.9 411.3 L699.9 411.8 L700.0 412.2 L700.0 412.7 L700.1 413.1 L700.1 413.6 L700.2 414.0 L700.2 414.5 L700.2 414.9 L700.3 415.4 L698.0 414.9 L698.1 415.3 L698.1 415.8 L698.2 416.2 L698.2 416.7 L698.2 417.1 L698.3 417.6 L698.3 418.0 L698.4 418.5 L698.4 418.9 L698.5 419.4 L698.5 419.8 L696.3 419.3 L696.3 419.8 L696.3 420.2 L696.4 420.7 L696.4 421.1 L696.5 421.6 L696.5 422.1 L696.6 422.5 L696.6 423.0 L696.6 423.4 L696.7 423.9 L694.4 423.4 L694.5 423.8 L694.5 424.3 L694.6 424.7 L694.6 425.2 L694.7 425.6 L694.7 426.1 L694.7 426.5 L694.8 427.0 L694.8 427.4 L694.9 427.9 L694.9 428.3 L692.7 427.8 L692.7 428.3 L692.8 428.7 L692.8 429.2 L692.9 429.7 L692.9 430.1 L692.9 430.6 L693.0 431.0 L693.0 431.5 L693.1 431.9 L693.1 432.4 L690.9 431.9 L690.9 432.3 L691.0 432.8 L691.0 433.2 L691.1 433.7 L691.1 434.1 L691.1 434.6 L691.2 435.0 L691.2 435.5 L691.3 435.9 L691.3 436.4 L691.4 436.9 L689.1 436.4 L689.2 436.8 L689.2 437.3 L689.3 437.7 L689.3 438.2 L689.4 438.6 L689.4 439.1 L689.5 439.5 L689.5 440.0 L689.6 440.4 L689.6 440.9 L687.3 440.4 L687.4 440.8 L687.4 441.3 L687.5 441.8 L687.5 442.2 L687.6 442.7 L687.6 443.1 L687.7 443.6 L687.7 444.0 L687.8 444.5 L687.8 444.9 L687.9 445.4 L685.6 444.9 L685.7 445.3 L685.7 445.8 L685.8 446.2 L685.8 446.7 L685.9 447.2 L685.9 447.6 L686.0 448.1 L686.0 448.5 L686.1 449.0 L686.1 449.4 L683.8 448.9 L683.9 449.4 L683.9 449.8 L684.0 450.3 L684.0 450.7 L684.1 451.2 L684.1 451.7 L684.2 452.1 L684.3 452.6 L684.3 453.0 L684.4 453.5 L684.4 453.9 L682.1 453.4 L682.2 453.9 L682.2 454.3 L682.3 454.8 L682.3 455.2 L682.4 455.7 L682.5 456.1 L682.5 456.6 L682.6 457.1 L682.6 457.5 L682.7 458.0 L680.4 457.5 L680.4 457.9 L680.5 458.4 L680.5 458.8 L680.6 459.3 L680.6 459.7 L680.7 460.2 L680.8 460.6 L680.8 461.1 L680.9 461.6 L680.9 462.0 L681.0 462.5 L678.7 462.0 L678.7 462.4 L678.8 462.9 L678.9 463.3 L678.9 463.8 L679.0 464.2 L679.0 464.7 L679.1 465.1 L679.1 465.6 L679.2 466.0 L679.2 466.5 L676.9 466.0 L677.0 466.5 L677.1 466.9 L677.1 467.4 L677.2 467.8 L677.2 468.3 L677.3 468.7 L677.3 469.2 L677.4 469.6 L677.4 470.1 L677.5 470.5 L677.5 471.0 L675.3 470.5 L675.3 470.9 L675.4 471.4 L675.4 471.8 L675.5 472.3 L675.5 472.7 L675.6 473.2 L675.6 473.6 L675.7 474.1 L675.7 474.5 L675.8 475.0 L673.5 474.5 L673.6 474.9 L673.6 475.4 L673.7 475.8 L673.7 476.3 L673.8 476.7 L673.8 477.2 L673.8 477.6 L673.9 478.1 L673.9 478.5 L674.0 479.0 L674.0 479.4 L671.8 478.9 L671.8 479.4 L671.9 479.8 L671.9 480.3 L672.0 480.7 L672.0 481.1 L672.1 481.6 L672.1 482.1 L672.1 482.5 L672.2 483.0 L672.2 483.4 L670.0 482.9 L670.0 483.3 L670.0 483.8 L670.1 484.2 L670.1 484.7 L670.2 485.1 L670.2 485.6 L670.3 486.1 L670.3 486.5 L670.4 486.9 L670.4 487.4 L670.4 487.8 L668.2 487.3 L668.2 487.7 L668.3 488.2 L668.3 488.6 L668.3 489.1 L668.4 489.6 L668.4 490.0 L668.5 490.5 L668.5 490.9 L668.5 491.4 L668.6 491.8 L666.3 491.3 L666.4 491.7 L666.4 492.2 L666.4 492.6 L666.5 493.1 L666.5 493.5 L666.6 494.0 L666.6 494.4 L666.6 494.9 L666.7 495.3 L666.7 495.8 L666.7 496.2 L664.5 495.7 L664.5 496.1 L664.6 496.6 L664.6 497.0 L664.6 497.5 L664.7 497.9 L664.7 498.4 L664.8 498.8 L664.8 499.3 L664.8 499.8 L664.9 500.2 L662.6 499.6 L662.6 500.1 L662.7 500.5 L662.7 501.0 L662.7 501.5 L662.8 501.9 L662.8 502.4 L662.9 502.8 L662.9 503.3 L662.9 503.7 L663.0 504.2 L663.0 504.6 L660.7 504.1 L660.8 504.5 L660.8 505.0 L660.9 505.4 L660.9 505.9 L660.9 506.3 L661.0 506.8 L661.0 507.3 L661.0 507.7 L661.1 508.2 L661.1 508.6 L658.8 508.1 L658.9 508.5 L658.9 509.0 L659.0 509.4 L659.0 509.9 L659.0 510.3 L659.1 510.8 L659.1 511.2 L659.2 511.7 L659.2 512.2 L659.2 512.6 L659.3 513.1 L657.0 512.5 L657.0 512.9 L657.1 513.4 L657.1 513.9 L657.2 514.3 L657.2 514.8 L657.2 515.2 L657.3 515.7 L657.3 516.2 L657.4 516.6 L657.4 517.1 L655.1 516.5 L655.2 517.0 L655.2 517.4 L655.3 517.9 L655.3 518.3 L655.3 518.8 L655.4 519.3 L655.4 519.7 L655.5 520.2 L655.5 520.6 L655.5 521.1 L655.6 521.5 L653.3 521.0 L653.3 521.5 L653.4 521.9 L653.4 522.4 L653.5 522.8 L653.5 523.3 L653.6 523.7 L653.6 524.2 L653.7 524.6 L653.7 525.1 L653.8 525.6 L651.5 525.1 L651.5 525.5 L651.6 526.0 L651.6 526.4 L651.7 526.9 L651.7 527.3 L651.8 527.8 L651.8 528.2 L651.9 528.7 L651.9 529.2 L652.0 529.6 L652.0 530.1 L649.7 529.5 L649.8 530.0 L649.8 530.5 L649.8 530.9 L649.9 531.4 L650.0 531.9 L650.0 532.3 L650.1 532.8 L650.1 533.2 L650.2 533.7 L650.2 534.1 L647.9 533.6 L648.0 534.1 L648.0 534.5 L648.1 535.0 L648.1 535.4 L648.2 535.9 L648.3 536.3 L648.3 536.8 L648.4 537.3 L648.4 537.7 L648.5 538.2 L648.5 538.7 L646.2 538.2 L646.3 538.6 L646.3 539.1 L646.4 539.5 L646.5 540.0 L646.5 540.4 L646.6 540.9 L646.6 541.3 L646.7 541.8 L646.7 542.2 L646.8 542.7 L644.5 542.2 L644.5 542.7 L644.6 543.2 L644.7 543.6 L644.7 544.1 L644.8 544.5 L644.8 545.0 L644.9 545.4 L645.0 545.9 L645.0 546.3 L645.1 546.8 L645.2 547.2 L642.8 546.8 L642.9 547.2 L643.0 547.7 L643.0 548.1 L643.1 548.6 L643.1 549.0 L643.2 549.5 L643.3 550.0 L643.3 550.4 L643.4 550.9 L643.5 551.3 L641.1 550.9 L641.2 551.3 L641.3 551.8 L641.3 552.2 L641.4 552.7 L641.5 553.1 L641.5 553.6 L641.6 554.0 L641.7 554.5 L641.7 554.9 L641.8 555.4 L641.8 555.8 L639.5 555.4 L639.6 555.9 L639.6 556.3 L639.7 556.8 L639.8 557.2 L639.8 557.7 L639.9 558.1 L640.0 558.6 L640.0 559.0 L640.1 559.5 L640.2 559.9 L637.9 559.5 L637.9 559.9 L638.0 560.4 L638.1 560.8 L638.1 561.3 L638.2 561.7 L638.3 562.2 L638.3 562.7 L638.4 563.1 L638.4 563.6 L638.5 564.0 L638.6 564.5 L636.3 564.0 L636.3 564.5 L636.4 564.9 L636.5 565.4 L636.5 565.8 L636.6 566.3 L636.7 566.7 L636.7 567.2 L636.8 567.6 L636.9 568.1 L636.9 568.5 L634.6 568.1 L634.7 568.5 L634.7 569.0 L634.8 569.4 L634.9 569.9 L634.9 570.3 L635.0 570.8 L635.1 571.2 L635.1 571.7 L635.2 572.2 L635.3 572.6 L635.3 573.1 L633.0 572.6 L633.1 573.1 L633.1 573.5 L633.2 574.0 L633.3 574.4 L633.3 574.8 L633.4 575.3 L633.5 575.7 L633.5 576.2 L633.6 576.6 L633.7 577.1 L631.3 576.6 L631.4 577.1 L631.5 577.5 L631.5 578.0 L631.6 578.4 L631.6 578.9 L631.7 579.3 L631.8 579.8 L631.8 580.3 L631.9 580.7 L632.0 581.2 L632.0 581.6 L629.7 581.1 L629.8 581.5 L629.8 582.0 L629.9 582.4 L629.9 582.9 L630.0 583.3 L630.1 583.8 L630.1 584.2 L630.2 584.7 L630.2 585.2 L630.3 585.6 L628.0 585.1 L628.0 585.6 L628.1 586.0 L628.1 586.5 L628.2 586.9 L628.3 587.3 L628.3 587.7 L628.4 588.2 L628.4 588.6 L628.5 589.1 L628.5 589.6 L628.6 590.0 L626.3 589.5 L626.3 589.9 L626.4 590.4 L626.4 590.8 L626.5 591.3 L626.5 591.7 L626.6 592.2 L626.6 592.6 L626.7 593.0 L626.7 593.5 L626.8 593.9 L624.5 593.3 L624.5 593.8 L624.5 594.2 L624.6 594.7 L624.6 595.1 L624.7 595.6 L624.7 596.0 L624.7 596.5 L624.8 597.0 L624.8 597.4 L624.8 597.9 L624.9 598.3 Z" fill="#0f0"/>
<path d="M625.3 598.5 L625.3 598.1 L625.2 597.6 L625.2 597.1 L625.1 596.7 L625.1 596.2 L625.1 595.8 L625.0 595.3 L625.0 594.9 L625.0 594.4 L624.9 593.9 L624.9 593.5 L627.2 594.1 L627.1 593.6 L627.1 593.2 L627.0 592.8 L627.0 592.4 L626.9 591.9 L626.9 591.5 L626.8 591.0 L626.8 590.5 L626.7 590.1 L626.7 589.6 L629.0 590.2 L628.9 589.7 L628.9 589.3 L628.8 588.8 L628.8 588.4 L628.7 587.9 L628.7 587.5 L628.6 587.0 L628.6 586.6 L628.5 586.2 L628.4 585.7 L628.4 585.3 L630.7 585.8 L630.6 585.3 L630.6 584.9 L630.5 584.4 L630.5 584.0 L630.4 583.5 L630.4 583.0 L630.3 582.6 L630.3 582.1 L630.2 581.7 L630.1 581.2 L632.5 581.7 L632.4 581.3 L632.3 580.9 L632.3 580.4 L632.2 580.0 L632.1 579.5 L632.1 579.1 L632.0 578.6 L631.9 578.1 L631.9 577.7 L631.8 577.2 L631.8 576.8 L634.1 577.3 L634.0 576.8 L634.0 576.4 L633.9 575.9 L633.8 575.4 L633.8 575.0 L633.7 574.6 L633.6 574.1 L633.6 573.7 L633.5 573.2 L633.4 572.8 L635.8 573.2 L635.7 572.8 L635.6 572.3 L635.6 571.9 L635.5 571.4 L635.4 571.0 L635.4 570.5 L635.3 570.0 L635.2 569.6 L635.2 569.1 L635.1 568.7 L635.0 568.2 L637.3 568.7 L637.3 568.3 L637.2 567.8 L637.1 567.3 L637.1 566.9 L637.0 566.4 L636.9 566.0 L636.9 565.5 L636.8 565.1 L636.7 564.6 L636.7 564.2 L639.0 564.6 L638.9 564.2 L638.9 563.7 L638.8 563.3 L638.7 562.8 L638.7 562.4 L638.6 561.9 L638.5 561.5 L638.5 561.0 L638.4 560.5 L638.3 560.1 L638.3 559.6 L640.6 560.1 L640.5 559.6 L640.5 559.2 L640.4 558.7 L640.3 558.3 L640.3 557.8 L640.2 557.4 L640.1 556.9 L640.1 556.5 L640.0 556.0 L639.9 555.6 L642.3 556.0 L642.2 555.6 L642.1 555.1 L642.1 554.6 L642.0 554.2 L641.9 553.7 L641.9 553.3 L641.8 552.8 L641.8 552.4 L641.7 551.9 L641.6 551.5 L641.6 551.0 L643.9 551.5 L643.8 551.0 L643.7 550.6 L643.7 550.1 L643.6 549.7 L643.6 549.2 L643.5 548.7 L643.4 548.3 L643.4 547.8 L643.3 547.4 L643.3 546.9 L645.6 547.4 L645.5 546.9 L645.4 546.5 L645.4 546.0 L645.3 545.6 L645.3 545.1 L645.2 544.7 L645.1 544.2 L645.1 543.8 L645.0 543.3 L645.0 542.9 L644.9 542.4 L647.2 542.9 L647.2 542.4 L647.1 542.0 L647.0 541.5 L647.0 541.1 L646.9 540.6 L646.9 540.1 L646.8 539.7 L646.8 539.2 L646.7 538.8 L646.6 538.3 L648.9 538.8 L648.9 538.4 L648.8 537.9 L648.8 537.4 L648.7 537.0 L648.7 536.5 L648.6 536.1 L648.6 535.6 L648.5 535.2 L648.5 534.7 L648.4 534.2 L648.3 533.8 L650.6 534.3 L650.6 533.8 L650.5 533.4 L650.5 532.9 L650.4 532.5 L650.4 532.0 L650.3 531.6 L650.3 531.1 L650.2 530.6 L650.2 530.2 L650.1 529.7 L652.4 530.2 L652.4 529.8 L652.3 529.3 L652.3 528.9 L652.2 528.4 L652.2 528.0 L652.1 527.5 L652.1 527.1 L652.0 526.6 L652.0 526.1 L651.9 525.7 L651.9 525.2 L654.2 525.8 L654.1 525.3 L654.1 524.8 L654.0 524.4 L654.0 523.9 L653.9 523.5 L653.9 523.0 L653.9 522.5 L653.8 522.1 L653.8 521.6 L653.7 521.2 L656.0 521.7 L656.0 521.3 L655.9 520.8 L655.9 520.4 L655.8 519.9 L655.8 519.4 L655.7 519.0 L655.7 518.5 L655.7 518.1 L655.6 517.6 L655.6 517.1 L655.5 516.7 L657.8 517.2 L657.8 516.8 L657.7 516.3 L657.7 515.9 L657.7 515.4 L657.6 515.0 L657.6 514.5 L657.5 514.1 L657.5 513.6 L657.5 513.1 L657.4 512.7 L659.7 513.2 L659.7 512.8 L659.6 512.3 L659.6 511.9 L659.5 511.4 L659.5 511.0 L659.5 510.5 L659.4 510.1 L659.4 509.6 L659.3 509.2 L659.3 508.7 L659.3 508.2 L661.5 508.8 L661.5 508.3 L661.5 507.9 L661.4 507.4 L661.4 507.0 L661.3 506.5 L661.3 506.1 L661.3 505.6 L661.2 505.2 L661.2 504.7 L661.2 504.3 L663.4 504.8 L663.4 504.4 L663.3 503.9 L663.3 503.5 L663.3 503.0 L663.2 502.6 L663.2 502.1 L663.2 501.6 L663.1 501.2 L663.1 500.7 L663.0 500.3 L663.0 499.8 L665.3 500.4 L665.2 499.9 L665.2 499.5 L665.2 499.0 L665.1 498.6 L665.1 498.1 L665.0 497.7 L665.0 497.2 L665.0 496.8 L664.9 496.3 L664.9 495.9 L667.2 496.4 L667.1 496.0 L667.1 495.5 L667.0 495.1 L667.0 494.6 L667.0 494.2 L666.9 493.7 L666.9 493.2 L666.9 492.8 L666.8 492.3 L666.8 491.9 L666.7 491.4 L669.0 492.0 L669.0 491.6 L668.9 491.1 L668.9 490.6 L668.8 490.2 L668.8 489.7 L668.8 489.3 L668.7 488.8 L668.7 488.4 L668.6 487.9 L668.6 487.5 L670.9 488.0 L670.8 487.6 L670.8 487.1 L670.7 486.7 L670.7 486.2 L670.6 485.8 L670.6 485.3 L670.5 484.9 L670.5 484.4 L670.5 484.0 L670.4 483.5 L670.4 483.1 L672.6 483.6 L672.6 483.1 L672.6 482.7 L672.5 482.2 L672.5 481.8 L672.4 481.3 L672.4 480.9 L672.3 480.4 L672.3 480.0 L672.2 479.6 L672.2 479.1 L674.5 479.6 L674.4 479.2 L674.4 478.7 L674.3 478.3 L674.3 477.8 L674.2 477.3 L674.2 476.9 L674.1 476.4 L674.1 476.0 L674.0 475.5 L674.0 475.1 L673.9 474.6 L676.2 475.2 L676.1 474.7 L676.1 474.3 L676.0 473.8 L676.0 473.4 L675.9 472.9 L675.9 472.5 L675.8 472.0 L675.8 471.5 L675.7 471.1 L675.7 470.6 L678.0 471.1 L677.9 470.7 L677.8 470.2 L677.8 469.8 L677.7 469.3 L677.7 468.9 L677.6 468.4 L677.6 468.0 L677.5 467.5 L677.5 467.1 L677.4 466.6 L677.4 466.2 L679.6 466.7 L679.6 466.2 L679.5 465.8 L679.5 465.3 L679.4 464.9 L679.4 464.4 L679.3 463.9 L679.3 463.5 L679.2 463.0 L679.2 462.6 L679.1 462.1 L681.4 462.6 L681.3 462.2 L681.3 461.7 L681.2 461.3 L681.2 460.8 L681.1 460.4 L681.1 459.9 L681.0 459.5 L681.0 459.0 L680.9 458.6 L680.9 458.1 L680.8 457.6 L683.1 458.1 L683.0 457.7 L683.0 457.2 L682.9 456.8 L682.9 456.3 L682.8 455.9 L682.8 455.4 L682.7 455.0 L682.7 454.5 L682.6 454.0 L682.6 453.6 L684.8 454.1 L684.8 453.6 L684.7 453.2 L684.7 452.7 L684.6 452.3 L684.6 451.8 L684.5 451.4 L684.5 450.9 L684.4 450.5 L684.4 450.0 L684.3 449.5 L684.3 449.1 L686.5 449.6 L686.5 449.1 L686.4 448.7 L686.4 448.2 L686.3 447.8 L686.3 447.3 L686.2 446.9 L686.2 446.4 L686.1 446.0 L686.1 445.5 L686.0 445.1 L688.3 445.5 L688.2 445.1 L688.2 444.6 L688.1 444.2 L688.1 443.7 L688.1 443.3 L688.0 442.8 L688.0 442.4 L687.9 441.9 L687.9 441.5 L687.8 441.0 L687.8 440.6 L690.0 441.1 L690.0 440.6 L689.9 440.2 L689.9 439.7 L689.8 439.2 L689.8 438.8 L689.7 438.3 L689.7 437.9 L689.6 437.4 L689.6 437.0 L689.5 436.5 L691.8 437.0 L691.8 436.6 L691.7 436.1 L691.7 435.7 L691.6 435.2 L691.6 434.8 L691.5 434.3 L691.5 433.9 L691.4 433.4 L691.4 432.9 L691.3 432.5 L691.3 432.0 L693.5 432.5 L693.5 432.1 L693.5 431.6 L693.4 431.2 L693.4 430.7 L693.3 430.3 L693.3 429.8 L693.2 429.4 L693.2 428.9 L693.1 428.5 L693.1 428.0 L695.3 428.5 L695.3 428.1 L695.3 427.6 L695.2 427.2 L695.2 426.7 L695.1 426.2 L695.1 425.8 L695.0 425.3 L695.0 424.9 L694.9 424.4 L694.9 424.0 L694.8 423.5 L697.1 424.0 L697.1 423.6 L697.0 423.1 L697.0 422.7 L696.9 422.2 L696.9 421.8 L696.8 421.3 L696.8 420.9 L696.8 420.4 L696.7 420.0 L696.7 419.5 L698.9 420.0 L698.9 419.6 L698.8 419.1 L698.8 418.7 L698.7 418.2 L698.7 417.8 L698.7 417.3 L698.6 416.9 L698.6 416.4 L698.5 415.9 L698.5 415.5 L698.4 415.0 L700.7 415.6 L700.7 415.1 L700.6 414.6 L700.6 414.2 L700.5 413.7 L700.5 413.3 L700.4 412.8 L700.4 412.4 L700.4 411.9 L700.3 411.5 L700.3 411.0 L702.5 411.6 L702.5 411.1 L702.4 410.6 L702.4 410.2 L702.4 409.7 L702.3 409.3 L702.3 408.8 L702.2 408.4 L702.2 407.9 L702.2 407.5 L702.1 407.0 L702.1 406.6 L704.3 407.1 L704.3 406.6 L704.2 406.2 L704.2 405.7 L704.2 405.3 L704.1 404.8 L704.1 404.4 L704.1 403.9 L704.0 403.5 L704.0 403.0 L703.9 402.5 L706.2 403.1 L706.1 402.6 L706.1 402.2 L706.1 401.7 L706.0 401.3 L706.0 400.8 L705.9 400.4 L705.9 399.9 L705.9 399.5 L705.8 399.0 L705.8 398.5 L705.8 398.1 L708.0 398.6 L708.0 398.2 L707.9 397.7 L707.9 397.3 L707.8 396.8 L707.8 396.4 L707.8 395.9 L707.7 395.5 L707.7 395.0 L707.7 394.6 L707.6 394.1 L709.9 394.6 L709.8 394.2 L709.8 393.7 L709.8 393.3 L709.7 392.8 L709.7 392.4 L709.6 391.9 L709.6 391.5 L709.6 391.0 L709.5 390.6 L709.5 390.1 L709.5 389.6 L711.7 390.2 L711.7 389.7 L711.6 389.3 L711.6 388.8 L711.6 388.4 L711.5 387.9 L711.5 387.5 L711.5 387.0 L711.4 386.6 L711.4 386.1 L711.4 385.7 L713.6 386.2 L713.6 385.8 L713.5 385.3 L713.5 384.8 L713.5 384.4 L713.4 383.9 L713.4 383.5 L713.3 383.0 L713.3 382.6 L713.3 382.1 L713.3 381.7 L713.2 381.2 L715.4 381.8 L715.4 381.3 L715.4 380.9 L715.4 380.4 L715.3 380.0 L715.3 379.5 L715.3 379.0 L715.2 378.6 L715.2 378.1 L715.2 377.7 L715.1 377.2 L717.3 377.8 L717.3 377.3 L717.3 376.9 L717.3 376.4 L717.2 376.0 L717.2 375.5 L717.2 375.1 L717.1 374.6 L717.1 374.2 L717.1 373.7 L717.0 373.3 L717.0 372.8 L719.2 373.4 L719.2 372.9 L719.2 372.5 L719.1 372.0 L719.1 371.5 L719.1 371.1 L719.1 370.6 L719.0 370.2 L719.0 369.7 L719.0 369.3 L718.9 368.8 L721.2 369.4 L721.1 368.9 L721.1 368.5 L721.1 368.0 L721.0 367.6 L721.0 367.1 L721.0 366.7 L721.0 366.2 L720.9 365.8 L720.9 365.3 L720.9 364.9 L720.9 364.4 L723.1 365.0 L723.0 364.5 L723.0 364.1 L723.0 363.6 L723.0 363.2 L722.9 362.7 L722.9 362.3 L722.9 361.8 L722.8 361.4 L722.8 360.9 L722.8 360.4 L725.0 361.0 L725.0 360.6 L725.0 360.1 L724.9 359.7 L724.9 359.2 L724.9 358.8 L724.9 358.3 L724.8 357.8 L724.8 357.4 L724.8 356.9 L724.7 356.5 L724.7 356.0 L726.9 356.6 L726.9 356.2 L726.9 355.7 L726.9 355.2 L726.8 354.8 L726.8 354.3 L726.8 353.9 L726.8 353.4 L726.7 353.0 L726.7 352.5 L726.7 352.1 L728.9 352.7 L728.9 352.2 L728.8 351.8 L728.8 351.3 L728.8 350.8 L728.8 350.4 L728.8 349.9 L728.7 349.5 L728.7 349.0 L728.7 348.6 L728.7 348.1 L728.6 347.7 L730.8 348.3 L730.8 347.8 L730.8 347.4 L730.8 346.9 L730.8 346.5 L730.7 346.0 L730.7 345.5 L730.7 345.1 L730.7 344.6 L730.7 344.2 L730.6 343.7 L732.8 344.3 L732.8 343.9 L732.8 343.4 L732.8 343.0 L732.7 342.5 L732.7 342.1 L732.7 341.6 L732.7 341.2 L732.7 340.7 L732.6 340.2 L732.6 339.8 L732.6 339.3 L734.8 339.9 L734.8 339.5 L734.8 339.0 L734.8 338.6 L734.7 338.1 L734.7 337.7 L734.7 337.2 L734.7 336.8 L734.7 336.3 L734.6 335.9 L734.6 335.4 L736.8 336.0 L736.8 335.6 L736.8 335.1 L736.8 334.6 L736.7 334.2 L736.7 333.7 L736.7 333.3 L736.7 332.8 L736.7 332.4 L736.7 331.9 L736.6 331.5 L736.6 331.0 L738.8 331.6 L738.8 331.2 L738.8 330.7 L738.8 330.3 L738.7 329.8 L738.7 329.4 L738.7 328.9 L738.7 328.5 L738.7 328.0 L738.7 327.5 L738.7 327.1 L740.8 327.7 L740.8 327.3 L740.8 326.8 L740.8 326.4 L740.8 325.9 L740.8 325.4 L740.8 325.0 L740.7 324.5 L740.7 324.1 L740.7 323.6 L740.7 323.2 L740.7 322.7 L742.9 323.3 L742.9 322.9 L742.8 322.4 L742.8 322.0 L742.8 321.5 L742.8 321.1 L742.8 320.6 L742.8 320.2 L742.8 319.7 L742.8 319.3 L742.7 318.8 L744.9 319.4 L744.9 319.0 L744.9 318.5 L744.9 318.1 L744.9 317.6 L744.9 317.2 L744.8 316.7 L744.8 316.3 L744.8 315.8 L744.8 315.4 L744.8 314.9 L744.8 314.4 L747.0 315.1 L747.0 314.6 L746.9 314.2 L746.9 313.7 L746.9 313.3 L746.9 312.8 L746.9 312.4 L746.9 311.9 L746.9 311.5 L746.9 311.0 L746.9 310.6 L749.0 311.2 L749.0 310.7 L749.0 310.3 L749.0 309.8 L749.0 309.4 L749.0 308.9 L749.0 308.5 L749.0 308.0 L749.0 307.6 L749.0 307.1 L749.0 306.7 L748.9 306.2 L751.1 306.9 L751.1 306.4 L751.1 305.9 L751.1 305.5 L751.1 305.0 L751.1 304.6 L751.1 304.1 L751.1 303.7 L751.1 303.2 L751.1 302.8 L751.1 302.3 L753.2 303.0 L753.2 302.5 L753.2 302.1 L753.2 301.6 L753.2 301.2 L753.2 300.7 L753.2 300.2 L753.2 299.8 L753.2 299.3 L753.2 298.9 L753.2 298.4 L753.2 298.0 L755.3 298.6 L755.3 298.2 L755.3 297.7 L755.3 297.3 L755.3 296.8 L755.3 296.4 L755.3 295.9 L755.3 295.5 L755.3 295.0 L755.3 294.6 L755.3 294.1 L757.4 294.8 L757.4 294.3 L757.4 293.9 L757.4 293.4 L757.4 293.0 L757.4 292.5 L757.4 292.0 L757.4 291.6 L757.4 291.1 L757.4 290.7 L757.4 290.2 L757.4 289.8 L759.5 290.4 L759.5 290.0 L759.5 289.5 L759.5 289.1 L759.5 288.6 L759.5 288.2 L759.5 287.7 L759.5 287.3 L759.5 286.8 L759.5 286.3 L759.5 285.9 L761.7 286.6 L761.7 286.1 L761.7 285.7 L761.7 285.2 L761.7 284.8 L761.7 284.3 L761.7 283.8 L761.7 283.4 L761.7 282.9 L761.7 282.5 L761.7 282.0 L761.7 281.6 L763.8 282.3 L763.8 281.8 L763.8 281.3 L763.8 280.9 L763.8 280.4 L763.8 280.0 L763.8 279.5 L763.8 279.1 L763.8 278.6 L763.8 278.2 L763.8 277.7 L766.0 278.4 L766.0 277.9 L766.0 277.5 L766.0 277.0 L766.0 276.6 L766.0 276.1 L766.0 275.7 L766.0 275.2 L766.0 274.8 L766.0 274.3 L766.0 273.9 L766.0 273.4 L768.1 274.1 L768.1 273.6 L768.1 273.2 L768.1 272.7 L768.1 272.3 L768.2 271.8 L768.2 271.4 L768.2 270.9 L768.2 270.5 L768.2 270.0 L768.2 269.6 L770.3 270.3 L770.3 269.8 L770.3 269.4 L770.3 268.9 L770.3 268.4 L770.3 268.0 L770.3 267.5 L770.4 267.1 L770.4 266.6 L770.4 266.2 L770.4 265.7 L770.4 265.3 L772.5 266.0 L772.5 265.5 L772.5 265.1 L772.5 264.6 L772.5 264.2 L772.5 263.7 L772.6 263.2 L772.6 262.8 L772.6 262.3 L772.6 261.9 L772.6 261.4 L774.7 262.2 L774.7 261.7 L774.7 261.3 L774.7 260.8 L774.7 260.3 L774.8 259.9 L774.8 259.4 L774.8 259.0 L774.8 258.5 L774.8 258.1 L774.8 257.6 L774.8 257.2 L776.9 257.9 L777.0 257.4 L777.0 257.0 L777.0 256.5 L777.0 256.1 L777.0 255.6 L777.0 255.2 L777.0 254.7 L777.0 254.2 L777.1 253.8 L777.1 253.3 L779.2 254.1 L779.2 253.6 L779.2 253.2 L779.2 252.7 L779.2 252.3 L779.2 251.8 L779.3 251.4 L779.3 250.9 L779.3 250.4 L779.3 250.0 L779.3 249.5 L779.3 249.1 L781.4 249.8 L781.5 249.4 L781.5 248.9 L781.5 248.5 L781.5 248.0 L781.5 247.6 L781.5 247.1 L781.6 246.6 L781.6 246.2 L781.6 245.7 L781.6 245.3 L783.7 246.0 L783.7 245.6 L783.7 245.1 L783.8 244.7 L783.8 244.2 L783.8 243.8 L783.8 243.3 L783.8 242.9 L783.9 242.4 L783.9 241.9 L783.9 241.5 L783.9 241.0 L786.0 241.8 L786.0 241.3 L786.0 240.9 L786.1 240.4 L786.1 240.0 L786.1 239.5 L786.1 239.1 L786.1 238.6 L786.2 238.2 L786.2 237.7 L786.2 237.3 L788.3 238.0 L788.3 237.5 L788.3 237.1 L788.3 236.6 L788.4 236.2 L788.4 235.7 L788.4 235.3 L788.4 234.8 L788.5 234.4 L788.5 233.9 L788.5 233.5 L788.6 233.0 L790.6 233.8 L790.6 233.3 L790.6 232.9 L790.7 232.4 L790.7 232.0 L790.7 231.5 L790.7 231.1 L790.8 230.6 L790.8 230.2 L790.9 229.7 L790.9 229.3 L792.9 230.0 L792.9 229.5 L792.9 229.1 L793.0 228.6 L793.0 228.2 L793.0 227.7 L793.1 227.3 L793.1 226.9 L793.1 226.4 L793.2 226.0 L793.2 225.5 L793.3 225.1 L795.2 225.8 L795.2 225.3 L795.3 224.9 L795.3 224.4 L795.4 224.0 L795.4 223.5 L795.4 223.1 L795.5 222.7 L795.5 222.2 L795.6 221.8 L795.6 221.3 L797.5 222.0 L797.6 221.6 L797.6 221.1 L797.7 220.7 L797.7 220.2 L797.8 219.8 L797.8 219.4 L797.9 218.9 L797.9 218.5 L798.0 218.0 L798.0 217.6 L798.1 217.1 L799.9 217.8 L800.0 217.4 L800.0 216.9 L800.1 216.5 L800.1 216.0 L800.2 215.6 L800.2 215.2 L800.3 214.7 L800.3 214.3 L800.4 213.8 L800.5 213.4 L802.3 214.1 L802.3 213.6 L802.4 213.2 L802.4 212.8 L802.5 212.3 L802.6 211.9 L802.6 211.4 L802.7 211.0 L802.7 210.6 L802.8 210.1 L802.9 209.7 L802.9 209.2 L804.7 209.9 L804.8 209.5 L804.8 209.0 L804.9 208.6 L805.0 208.2 L805.0 207.7 L805.1 207.3 L805.1 206.9 L805.2 206.4 L805.3 206.0 L805.4 205.5 L807.1 206.2 L807.2 205.7 L807.2 205.3 L807.3 204.9 L807.4 204.4 L807.4 204.0 L807.5 203.6 L807.6 203.1 L807.7 202.7 L807.7 202.3 L807.8 201.8 L807.9 201.4 L809.6 202.0 L809.7 201.6 L809.7 201.2 L809.8 200.7 L809.9 200.3 L809.9 199.9 L810.0 199.5 L810.1 199.0 L810.2 198.6 L810.3 198.1 L810.4 197.7 L812.0 198.3 L812.1 197.9 L812.2 197.5 L812.2 197.0 L812.3 196.6 L812.4 196.2 L812.5 195.8 L812.6 195.3 L812.7 194.9 L812.8 194.5 L812.8 194.0 L812.9 193.6 L814.5 194.2 L814.6 193.8 L814.7 193.4 L814.8 192.9 L814.9 192.5 L815.0 192.1 L815.1 191.7 L815.2 191.2 L815.3 190.8 L815.3 190.4 L815.4 190.0 L817.0 190.5 L817.1 190.1 L817.2 189.7 L817.3 189.3 L817.4 188.8 L817.5 188.4 L817.6 188.0 L817.7 187.6 L817.8 187.1 L817.9 186.7 L818.0 186.3 L818.1 185.9 L819.6 186.4 L819.7 186.0 L819.8 185.6 L819.9 185.2 L820.0 184.8 L820.1 184.3 L820.2 183.9 L820.3 183.5 L820.4 183.1 L820.5 182.7 L820.6 182.3 L822.1 182.8 L822.2 182.4 L822.3 182.0 L822.4 181.5 L822.5 181.1 L822.6 180.7 L822.7 180.3 L822.8 179.9 L823.0 179.5 L823.1 179.0 L823.2 178.6 L823.3 178.2 L824.7 178.7 L824.8 178.3 L824.9 177.9 L825.1 177.5 L825.2 177.1 L825.3 176.7 L825.4 176.2 L825.5 175.8 L825.6 175.4 L825.8 175.0 L825.9 174.6 L827.3 175.1 L827.4 174.7 L827.5 174.3 L827.6 173.9 L827.8 173.5 L827.9 173.0 L828.0 172.6 L828.1 172.2 L828.2 171.8 L828.4 171.4 L828.5 171.0 L828.6 170.6 L830.0 171.1 L830.1 170.7 L830.2 170.3 L830.4 169.9 L830.5 169.5 L830.6 169.0 L830.7 168.6 L830.9 168.2 L831.0 167.8 L831.1 167.4 L831.3 167.0 L832.6 167.5 L832.7 167.1 L832.8 166.7 L833.0 166.3 L833.1 165.9 L833.2 165.5 L833.4 165.1 L833.5 164.7 L833.6 164.3 L833.8 163.9 L833.9 163.5" fill="none" stroke="#139a13" stroke-width="0.9" stroke-opacity="0.55"/>
</g>
<rect x="618.3" y="2.0" width="397.9" height="594.6" fill="none" stroke="#000" stroke-width="2.2"/>
<g id="inset">
<defs>
<linearGradient id="siF" x1="255" y1="0" x2="475" y2="0" gradientUnits="userSpaceOnUse">
<stop offset="0" stop-color="#5a82b3"/><stop offset="0.3" stop-color="#527aab"/><stop offset="0.66" stop-color="#4a72a2"/><stop offset="0.7" stop-color="#3a5a82"/><stop offset="0.745" stop-color="#121c2a"/><stop offset="0.8" stop-color="#06090e"/><stop offset="1" stop-color="#030507"/>
</linearGradient>
<linearGradient id="alF" x1="278" y1="0" x2="460" y2="0" gradientUnits="userSpaceOnUse">
<stop offset="0" stop-color="#24c4f2"/><stop offset="0.52" stop-color="#1bbcf0"/><stop offset="0.6" stop-color="#1290bd"/><stop offset="0.66" stop-color="#0a5a78"/><stop offset="0.72" stop-color="#03222e"/><stop offset="0.8" stop-color="#02161d"/><stop offset="1" stop-color="#02141a"/>
</linearGradient>
<linearGradient id="snF" x1="278" y1="0" x2="460" y2="0" gradientUnits="userSpaceOnUse">
<stop offset="0" stop-color="#7f34c0"/><stop offset="0.52" stop-color="#7630b6"/><stop offset="0.6" stop-color="#64279e"/><stop offset="0.66" stop-color="#45186e"/><stop offset="0.72" stop-color="#1e0834"/><stop offset="0.8" stop-color="#14061f"/><stop offset="1" stop-color="#0d0416"/>
</linearGradient>
<linearGradient id="elF" x1="0" y1="0" x2="1" y2="0">
<stop offset="0" stop-color="#a8a8a8"/><stop offset="0.2" stop-color="#efefef"/><stop offset="0.8" stop-color="#ebebeb"/><stop offset="1" stop-color="#8a8a8a"/>
</linearGradient>
<linearGradient id="elT" x1="0" y1="1" x2="0" y2="0">
<stop offset="0" stop-color="#f2f2f2"/><stop offset="1" stop-color="#dadada"/>
</linearGradient>
</defs>
<path d="M261.5 516 Q262 513 266 510 L279 502 L463 491.5 Q477 493.5 473.5 501 L422 537 Q412 541 400 540 L262 518 Z" fill="#e2e2e2" stroke="#505050" stroke-width="1.1" stroke-linejoin="round"/>
<polygon points="261.5,516.0 270.0,518.5 278.0,521.0 290.0,524.3 300.0,527.0 315.0,529.5 330.0,532.0 350.0,533.6 372.0,535.3 390.0,536.2 400.0,536.7 410.0,539.5 417.0,537.8 473.5,500.0 473.5,521.0 470.0,525.5 420.0,558.5 410.0,560.8 400.0,560.1 390.0,559.5 372.0,558.0 350.0,555.8 330.0,553.1 315.0,551.0 300.0,548.5 278.7,544.5 272.0,543.4 267.0,541.8 263.0,539.0 261.5,535.0" fill="url(#siF)"/>
<polygon points="278.0,499.0 290.0,502.3 300.0,505.1 315.0,507.5 330.0,510.0 350.0,511.6 372.0,513.3 390.0,514.2 400.0,514.7 404.0,514.8 459.6,479.8 459.6,496.5 409.0,535.2 404.0,536.5 400.0,536.7 390.0,536.2 372.0,535.3 350.0,533.6 330.0,532.0 315.0,529.5 300.0,527.0 290.0,524.3 278.0,521.0" fill="url(#alF)"/>
<polygon points="278.0,476.0 290.0,479.3 300.0,482.0 315.0,484.4 330.0,486.9 350.0,488.5 372.0,490.2 390.0,491.1 400.0,491.6 404.0,491.6 459.5,454.0 459.5,479.8 404.0,514.8 400.0,514.7 390.0,514.2 372.0,513.3 350.0,511.6 330.0,510.0 315.0,507.5 300.0,505.1 290.0,502.3 278.0,499.0" fill="url(#snF)"/>
<polygon points="278.0,476.0 290.0,479.3 300.0,482.0 315.0,484.4 330.0,486.9 350.0,488.5 372.0,490.2 390.0,491.1 400.0,491.6 404.0,491.6 456.0,456.0 456.0,452.0 340.0,434.5" fill="#9b52d9"/>
<polyline points="278.0,476.0 290.0,479.3 300.0,482.0 315.0,484.4 330.0,486.9 350.0,488.5 372.0,490.2 390.0,491.1 400.0,491.6" fill="none" stroke="#6a2aa6" stroke-width="1"/>
<line x1="403" y1="492" x2="459.5" y2="454" stroke="#3a1560" stroke-width="1"/>
<polygon points="313.0,465.5 368.0,432.0 369.5,445.5 313.5,481.0" fill="#161616"/>
<polygon points="281.0,463.5 313.0,465.5 368.0,432.0 338.5,427.5" fill="url(#elT)" stroke="#3c3c3c" stroke-width="1.4" stroke-linejoin="round"/>
<polygon points="281.0,463.5 313.0,465.5 313.5,481.0 281.0,478.5" fill="url(#elF)"/>
<polygon points="401.0,477.6 456.0,443.0 457.5,457.5 401.5,491.6" fill="#161616"/>
<polygon points="371.0,476.8 401.0,477.6 456.0,443.0 427.0,439.0" fill="url(#elT)" stroke="#3c3c3c" stroke-width="1.4" stroke-linejoin="round"/>
<polygon points="371.0,476.8 401.0,477.6 401.5,491.6 371.0,490.8" fill="url(#elF)"/>
<g font-family='"Liberation Sans", Arial, sans-serif' font-weight="bold" fill="#1e1e24">
<text x="290.8" y="476.2" font-size="12.5" transform="rotate(4 290.8 476.2)">Al</text>
<text x="379.8" y="489.2" font-size="12" transform="rotate(2 379.8 489.2)">Al</text>
</g>
<g font-family='"Liberation Sans", Arial, sans-serif' font-weight="bold">
<text x="292.8" y="494.8" font-size="12.8" fill="#2c0c4c" transform="rotate(9.5 292.8 494.8)">SnO<tspan font-size="8" dy="3">2</tspan><tspan dy="-3" font-weight="normal" font-family='"Noto Sans CJK SC", sans-serif'>（</tspan>plasma<tspan font-weight="normal" font-family='"Noto Sans CJK SC", sans-serif'>）</tspan></text>
<text x="319.5" y="526" font-size="12.5" fill="#0a2a46" transform="rotate(8 319.5 526)">Al<tspan font-size="8" dy="3">2</tspan><tspan dy="-3">O</tspan><tspan font-size="8" dy="3">3</tspan></text>
<text x="316.5" y="545.5" font-size="12.5" fill="#0e2240" transform="rotate(8.5 316.5 545.5)">Si (Gate)</text>
</g>
</g>
</svg></body></html>
